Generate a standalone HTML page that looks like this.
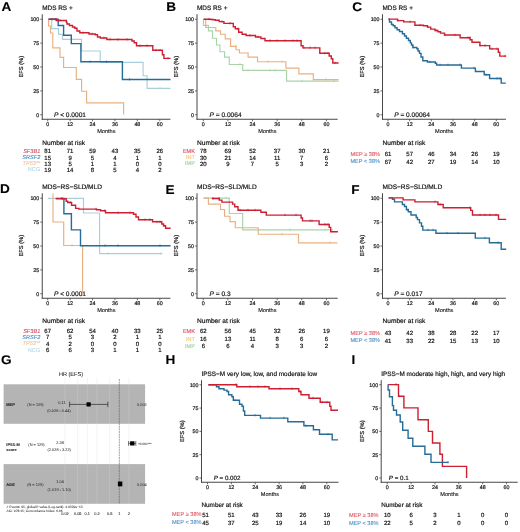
<!DOCTYPE html>
<html><head><meta charset="utf-8"><style>
html,body{margin:0;padding:0;background:#fff;}
svg{display:block;filter:blur(0.42px);}
text{font-family:"Liberation Sans", sans-serif;text-rendering:geometricPrecision;paint-order:stroke;}
</style></head><body>
<svg width="520" height="532" viewBox="0 0 520 532">
<rect width="520" height="532" fill="#fff"/>
<line x1="42.25" y1="14.25" x2="42.25" y2="119.75" stroke="#474747" stroke-width="1.0" stroke-opacity="1.0"/>
<line x1="41.75" y1="119.25" x2="170.40" y2="119.25" stroke="#474747" stroke-width="1.0" stroke-opacity="1.0"/>
<line x1="40.25" y1="114.75" x2="42.25" y2="114.75" stroke="#474747" stroke-width="0.8" stroke-opacity="1.0"/>
<text transform="translate(39.25,116.65) scale(1.0,1)" font-size="5.3" text-anchor="end" font-weight="normal" font-style="normal" fill="#111111" stroke="#111111" stroke-width="0.18">0</text>
<line x1="40.25" y1="90.88" x2="42.25" y2="90.88" stroke="#474747" stroke-width="0.8" stroke-opacity="1.0"/>
<text transform="translate(39.25,92.78) scale(1.0,1)" font-size="5.3" text-anchor="end" font-weight="normal" font-style="normal" fill="#111111" stroke="#111111" stroke-width="0.18">25</text>
<line x1="40.25" y1="67.00" x2="42.25" y2="67.00" stroke="#474747" stroke-width="0.8" stroke-opacity="1.0"/>
<text transform="translate(39.25,68.90) scale(1.0,1)" font-size="5.3" text-anchor="end" font-weight="normal" font-style="normal" fill="#111111" stroke="#111111" stroke-width="0.18">50</text>
<line x1="40.25" y1="43.12" x2="42.25" y2="43.12" stroke="#474747" stroke-width="0.8" stroke-opacity="1.0"/>
<text transform="translate(39.25,45.02) scale(1.0,1)" font-size="5.3" text-anchor="end" font-weight="normal" font-style="normal" fill="#111111" stroke="#111111" stroke-width="0.18">75</text>
<line x1="40.25" y1="19.25" x2="42.25" y2="19.25" stroke="#474747" stroke-width="0.8" stroke-opacity="1.0"/>
<text transform="translate(39.25,21.15) scale(1.0,1)" font-size="5.3" text-anchor="end" font-weight="normal" font-style="normal" fill="#111111" stroke="#111111" stroke-width="0.18">100</text>
<line x1="47.70" y1="119.25" x2="47.70" y2="121.25" stroke="#474747" stroke-width="0.8" stroke-opacity="1.0"/>
<text transform="translate(47.70,125.55) scale(1.0,1)" font-size="5.3" text-anchor="middle" font-weight="normal" font-style="normal" fill="#111111" stroke="#111111" stroke-width="0.18">0</text>
<line x1="70.12" y1="119.25" x2="70.12" y2="121.25" stroke="#474747" stroke-width="0.8" stroke-opacity="1.0"/>
<text transform="translate(70.12,125.55) scale(1.0,1)" font-size="5.3" text-anchor="middle" font-weight="normal" font-style="normal" fill="#111111" stroke="#111111" stroke-width="0.18">12</text>
<line x1="92.54" y1="119.25" x2="92.54" y2="121.25" stroke="#474747" stroke-width="0.8" stroke-opacity="1.0"/>
<text transform="translate(92.54,125.55) scale(1.0,1)" font-size="5.3" text-anchor="middle" font-weight="normal" font-style="normal" fill="#111111" stroke="#111111" stroke-width="0.18">24</text>
<line x1="114.96" y1="119.25" x2="114.96" y2="121.25" stroke="#474747" stroke-width="0.8" stroke-opacity="1.0"/>
<text transform="translate(114.96,125.55) scale(1.0,1)" font-size="5.3" text-anchor="middle" font-weight="normal" font-style="normal" fill="#111111" stroke="#111111" stroke-width="0.18">36</text>
<line x1="137.38" y1="119.25" x2="137.38" y2="121.25" stroke="#474747" stroke-width="0.8" stroke-opacity="1.0"/>
<text transform="translate(137.38,125.55) scale(1.0,1)" font-size="5.3" text-anchor="middle" font-weight="normal" font-style="normal" fill="#111111" stroke="#111111" stroke-width="0.18">48</text>
<line x1="159.80" y1="119.25" x2="159.80" y2="121.25" stroke="#474747" stroke-width="0.8" stroke-opacity="1.0"/>
<text transform="translate(159.80,125.55) scale(1.0,1)" font-size="5.3" text-anchor="middle" font-weight="normal" font-style="normal" fill="#111111" stroke="#111111" stroke-width="0.18">60</text>
<text transform="translate(106.33,132.65) scale(1.0,1)" font-size="5.6" text-anchor="middle" font-weight="normal" font-style="normal" fill="#111111" stroke="#111111" stroke-width="0.1">Months</text>
<text transform="translate(23.45,66.75) rotate(-90)" font-size="5.75" text-anchor="middle" fill="#111111" stroke="#111111" stroke-width="0.18">EFS (%)</text>
<text transform="translate(42.25,9.75) scale(1.0,1)" font-size="6.4" text-anchor="start" font-weight="normal" font-style="normal" fill="#111111" stroke="#111111" stroke-width="0.18">MDS RS +</text>
<text transform="translate(1.50,11.30) scale(1.08,1)" font-size="12.6" text-anchor="start" font-weight="bold" font-style="normal" fill="#000" stroke="#000" stroke-width="0.1">A</text>
<text transform="translate(53.90,117.15)" font-size="6.6" fill="#111111" stroke="#111111" stroke-width="0.18"><tspan font-style="italic" font-family="Liberation Sans">P</tspan> &lt; 0.0001</text>
<path d="M48.6,19.3 H51.7 V28.6 H58.6 V34.4 H62.5 V39.3 H81.5 V51 H100.2 V62.4 H143.1 V75.7 H147.1 V88.4 H170.5" stroke="#a9cfdc" stroke-width="1.15" fill="none" stroke-linejoin="miter" stroke-linecap="butt"/>
<line x1="160.00" y1="87.10" x2="160.00" y2="89.40" stroke="#a9cfdc" stroke-width="0.8" stroke-opacity="1.0"/>
<path d="M48.6,19.3 V26 H50.5 V33 H52.8 V47.8 H60 V57.3 H63.6 V67.5 H76.3 V79.4 H81.6 V91.2 H86.6 V102.9 H123.6 V114.5" stroke="#e9b080" stroke-width="1.15" fill="none" stroke-linejoin="miter" stroke-linecap="butt"/>
<path d="M48.6,19.3 H58.2 V25.5 H63.6 V35.2 H71.3 V43.6 H80.9 V61.8 H122.4 V79.5 H170.5" stroke="#276c98" stroke-width="1.4" fill="none" stroke-linejoin="miter" stroke-linecap="butt"/>
<line x1="52.00" y1="18.00" x2="52.00" y2="20.30" stroke="#276c98" stroke-width="0.8" stroke-opacity="1.0"/>
<line x1="55.00" y1="18.00" x2="55.00" y2="20.30" stroke="#276c98" stroke-width="0.8" stroke-opacity="1.0"/>
<line x1="90.00" y1="60.50" x2="90.00" y2="62.80" stroke="#276c98" stroke-width="0.8" stroke-opacity="1.0"/>
<line x1="106.50" y1="60.50" x2="106.50" y2="62.80" stroke="#276c98" stroke-width="0.8" stroke-opacity="1.0"/>
<line x1="129.60" y1="78.20" x2="129.60" y2="80.50" stroke="#276c98" stroke-width="0.8" stroke-opacity="1.0"/>
<path d="M48.6,19.3 H56.3 V20.5 H66.3 V22.1 H67 V24 H69.4 V25.5 H72.5 V27 H74.8 V28.2 H77 V31 H79.8 V32.8 H89 V34 H95.2 V34.8 H97.5 V37 H100.3 V38 H106.8 V39.5 H132 V41 H134.2 V42.8 H136.5 V45.8 H152.8 V50.2 H162.4 V54.7 H163.9 V58.4 H170.5" stroke="#cc1f32" stroke-width="1.4" fill="none" stroke-linejoin="miter" stroke-linecap="butt"/>
<line x1="56.00" y1="18.00" x2="56.00" y2="20.30" stroke="#cc1f32" stroke-width="0.8" stroke-opacity="1.0"/>
<line x1="60.00" y1="19.20" x2="60.00" y2="21.50" stroke="#cc1f32" stroke-width="0.8" stroke-opacity="1.0"/>
<line x1="83.00" y1="31.50" x2="83.00" y2="33.80" stroke="#cc1f32" stroke-width="0.8" stroke-opacity="1.0"/>
<line x1="92.00" y1="32.70" x2="92.00" y2="35.00" stroke="#cc1f32" stroke-width="0.8" stroke-opacity="1.0"/>
<line x1="104.00" y1="36.70" x2="104.00" y2="39.00" stroke="#cc1f32" stroke-width="0.8" stroke-opacity="1.0"/>
<line x1="110.00" y1="38.20" x2="110.00" y2="40.50" stroke="#cc1f32" stroke-width="0.8" stroke-opacity="1.0"/>
<line x1="118.00" y1="38.20" x2="118.00" y2="40.50" stroke="#cc1f32" stroke-width="0.8" stroke-opacity="1.0"/>
<line x1="127.00" y1="38.20" x2="127.00" y2="40.50" stroke="#cc1f32" stroke-width="0.8" stroke-opacity="1.0"/>
<line x1="140.00" y1="44.50" x2="140.00" y2="46.80" stroke="#cc1f32" stroke-width="0.8" stroke-opacity="1.0"/>
<line x1="147.00" y1="44.50" x2="147.00" y2="46.80" stroke="#cc1f32" stroke-width="0.8" stroke-opacity="1.0"/>
<line x1="156.00" y1="48.90" x2="156.00" y2="51.20" stroke="#cc1f32" stroke-width="0.8" stroke-opacity="1.0"/>
<line x1="160.00" y1="48.90" x2="160.00" y2="51.20" stroke="#cc1f32" stroke-width="0.8" stroke-opacity="1.0"/>
<line x1="168.00" y1="57.10" x2="168.00" y2="59.40" stroke="#cc1f32" stroke-width="0.8" stroke-opacity="1.0"/>
<text transform="translate(42.25,144.60) scale(1.0,1)" font-size="6.6" text-anchor="start" font-weight="normal" font-style="normal" fill="#111111" stroke="#111111" stroke-width="0.18">Number at risk</text>
<text transform="translate(40.25,153.20) scale(1.0,1)" font-size="5.6" text-anchor="end" font-weight="normal" font-style="italic" fill="#d24a5c" stroke="#d24a5c" stroke-width="0.08">SF3B1</text>
<text transform="translate(47.70,153.40) scale(1.0,1)" font-size="6.0" text-anchor="middle" font-weight="normal" font-style="normal" fill="#111111" stroke="#111111" stroke-width="0.18">81</text>
<text transform="translate(70.12,153.40) scale(1.0,1)" font-size="6.0" text-anchor="middle" font-weight="normal" font-style="normal" fill="#111111" stroke="#111111" stroke-width="0.18">71</text>
<text transform="translate(92.54,153.40) scale(1.0,1)" font-size="6.0" text-anchor="middle" font-weight="normal" font-style="normal" fill="#111111" stroke="#111111" stroke-width="0.18">59</text>
<text transform="translate(114.96,153.40) scale(1.0,1)" font-size="6.0" text-anchor="middle" font-weight="normal" font-style="normal" fill="#111111" stroke="#111111" stroke-width="0.18">43</text>
<text transform="translate(137.38,153.40) scale(1.0,1)" font-size="6.0" text-anchor="middle" font-weight="normal" font-style="normal" fill="#111111" stroke="#111111" stroke-width="0.18">35</text>
<text transform="translate(159.80,153.40) scale(1.0,1)" font-size="6.0" text-anchor="middle" font-weight="normal" font-style="normal" fill="#111111" stroke="#111111" stroke-width="0.18">26</text>
<text transform="translate(40.25,159.30) scale(1.0,1)" font-size="5.6" text-anchor="end" font-weight="normal" font-style="italic" fill="#3d8cc4" stroke="#3d8cc4" stroke-width="0.08">SRSF2</text>
<text transform="translate(47.70,159.50) scale(1.0,1)" font-size="6.0" text-anchor="middle" font-weight="normal" font-style="normal" fill="#111111" stroke="#111111" stroke-width="0.18">15</text>
<text transform="translate(70.12,159.50) scale(1.0,1)" font-size="6.0" text-anchor="middle" font-weight="normal" font-style="normal" fill="#111111" stroke="#111111" stroke-width="0.18">9</text>
<text transform="translate(92.54,159.50) scale(1.0,1)" font-size="6.0" text-anchor="middle" font-weight="normal" font-style="normal" fill="#111111" stroke="#111111" stroke-width="0.18">5</text>
<text transform="translate(114.96,159.50) scale(1.0,1)" font-size="6.0" text-anchor="middle" font-weight="normal" font-style="normal" fill="#111111" stroke="#111111" stroke-width="0.18">4</text>
<text transform="translate(137.38,159.50) scale(1.0,1)" font-size="6.0" text-anchor="middle" font-weight="normal" font-style="normal" fill="#111111" stroke="#111111" stroke-width="0.18">1</text>
<text transform="translate(159.80,159.50) scale(1.0,1)" font-size="6.0" text-anchor="middle" font-weight="normal" font-style="normal" fill="#111111" stroke="#111111" stroke-width="0.18">1</text>
<text transform="translate(40.25,165.30) scale(1.0,1)" font-size="5.6" text-anchor="end" font-weight="normal" font-style="italic" fill="#f2c096" stroke="#f2c096" stroke-width="0.08">TP53**</text>
<text transform="translate(47.70,165.50) scale(1.0,1)" font-size="6.0" text-anchor="middle" font-weight="normal" font-style="normal" fill="#111111" stroke="#111111" stroke-width="0.18">13</text>
<text transform="translate(70.12,165.50) scale(1.0,1)" font-size="6.0" text-anchor="middle" font-weight="normal" font-style="normal" fill="#111111" stroke="#111111" stroke-width="0.18">5</text>
<text transform="translate(92.54,165.50) scale(1.0,1)" font-size="6.0" text-anchor="middle" font-weight="normal" font-style="normal" fill="#111111" stroke="#111111" stroke-width="0.18">1</text>
<text transform="translate(114.96,165.50) scale(1.0,1)" font-size="6.0" text-anchor="middle" font-weight="normal" font-style="normal" fill="#111111" stroke="#111111" stroke-width="0.18">1</text>
<text transform="translate(137.38,165.50) scale(1.0,1)" font-size="6.0" text-anchor="middle" font-weight="normal" font-style="normal" fill="#111111" stroke="#111111" stroke-width="0.18">0</text>
<text transform="translate(159.80,165.50) scale(1.0,1)" font-size="6.0" text-anchor="middle" font-weight="normal" font-style="normal" fill="#111111" stroke="#111111" stroke-width="0.18">0</text>
<text transform="translate(40.25,171.40) scale(1.0,1)" font-size="5.6" text-anchor="end" font-weight="normal" font-style="normal" fill="#b2d9e6" stroke="#b2d9e6" stroke-width="0.08">NCG</text>
<text transform="translate(47.70,171.60) scale(1.0,1)" font-size="6.0" text-anchor="middle" font-weight="normal" font-style="normal" fill="#111111" stroke="#111111" stroke-width="0.18">19</text>
<text transform="translate(70.12,171.60) scale(1.0,1)" font-size="6.0" text-anchor="middle" font-weight="normal" font-style="normal" fill="#111111" stroke="#111111" stroke-width="0.18">14</text>
<text transform="translate(92.54,171.60) scale(1.0,1)" font-size="6.0" text-anchor="middle" font-weight="normal" font-style="normal" fill="#111111" stroke="#111111" stroke-width="0.18">8</text>
<text transform="translate(114.96,171.60) scale(1.0,1)" font-size="6.0" text-anchor="middle" font-weight="normal" font-style="normal" fill="#111111" stroke="#111111" stroke-width="0.18">5</text>
<text transform="translate(137.38,171.60) scale(1.0,1)" font-size="6.0" text-anchor="middle" font-weight="normal" font-style="normal" fill="#111111" stroke="#111111" stroke-width="0.18">4</text>
<text transform="translate(159.80,171.60) scale(1.0,1)" font-size="6.0" text-anchor="middle" font-weight="normal" font-style="normal" fill="#111111" stroke="#111111" stroke-width="0.18">2</text>
<line x1="197.00" y1="14.25" x2="197.00" y2="119.75" stroke="#474747" stroke-width="1.0" stroke-opacity="1.0"/>
<line x1="196.50" y1="119.25" x2="337.70" y2="119.25" stroke="#474747" stroke-width="1.0" stroke-opacity="1.0"/>
<line x1="195.00" y1="114.75" x2="197.00" y2="114.75" stroke="#474747" stroke-width="0.8" stroke-opacity="1.0"/>
<text transform="translate(194.00,116.65) scale(1.0,1)" font-size="5.3" text-anchor="end" font-weight="normal" font-style="normal" fill="#111111" stroke="#111111" stroke-width="0.18">0</text>
<line x1="195.00" y1="90.88" x2="197.00" y2="90.88" stroke="#474747" stroke-width="0.8" stroke-opacity="1.0"/>
<text transform="translate(194.00,92.78) scale(1.0,1)" font-size="5.3" text-anchor="end" font-weight="normal" font-style="normal" fill="#111111" stroke="#111111" stroke-width="0.18">25</text>
<line x1="195.00" y1="67.00" x2="197.00" y2="67.00" stroke="#474747" stroke-width="0.8" stroke-opacity="1.0"/>
<text transform="translate(194.00,68.90) scale(1.0,1)" font-size="5.3" text-anchor="end" font-weight="normal" font-style="normal" fill="#111111" stroke="#111111" stroke-width="0.18">50</text>
<line x1="195.00" y1="43.12" x2="197.00" y2="43.12" stroke="#474747" stroke-width="0.8" stroke-opacity="1.0"/>
<text transform="translate(194.00,45.02) scale(1.0,1)" font-size="5.3" text-anchor="end" font-weight="normal" font-style="normal" fill="#111111" stroke="#111111" stroke-width="0.18">75</text>
<line x1="195.00" y1="19.25" x2="197.00" y2="19.25" stroke="#474747" stroke-width="0.8" stroke-opacity="1.0"/>
<text transform="translate(194.00,21.15) scale(1.0,1)" font-size="5.3" text-anchor="end" font-weight="normal" font-style="normal" fill="#111111" stroke="#111111" stroke-width="0.18">100</text>
<line x1="203.30" y1="119.25" x2="203.30" y2="121.25" stroke="#474747" stroke-width="0.8" stroke-opacity="1.0"/>
<text transform="translate(203.30,125.55) scale(1.0,1)" font-size="5.3" text-anchor="middle" font-weight="normal" font-style="normal" fill="#111111" stroke="#111111" stroke-width="0.18">0</text>
<line x1="227.92" y1="119.25" x2="227.92" y2="121.25" stroke="#474747" stroke-width="0.8" stroke-opacity="1.0"/>
<text transform="translate(227.92,125.55) scale(1.0,1)" font-size="5.3" text-anchor="middle" font-weight="normal" font-style="normal" fill="#111111" stroke="#111111" stroke-width="0.18">12</text>
<line x1="252.54" y1="119.25" x2="252.54" y2="121.25" stroke="#474747" stroke-width="0.8" stroke-opacity="1.0"/>
<text transform="translate(252.54,125.55) scale(1.0,1)" font-size="5.3" text-anchor="middle" font-weight="normal" font-style="normal" fill="#111111" stroke="#111111" stroke-width="0.18">24</text>
<line x1="277.16" y1="119.25" x2="277.16" y2="121.25" stroke="#474747" stroke-width="0.8" stroke-opacity="1.0"/>
<text transform="translate(277.16,125.55) scale(1.0,1)" font-size="5.3" text-anchor="middle" font-weight="normal" font-style="normal" fill="#111111" stroke="#111111" stroke-width="0.18">36</text>
<line x1="301.78" y1="119.25" x2="301.78" y2="121.25" stroke="#474747" stroke-width="0.8" stroke-opacity="1.0"/>
<text transform="translate(301.78,125.55) scale(1.0,1)" font-size="5.3" text-anchor="middle" font-weight="normal" font-style="normal" fill="#111111" stroke="#111111" stroke-width="0.18">48</text>
<line x1="326.40" y1="119.25" x2="326.40" y2="121.25" stroke="#474747" stroke-width="0.8" stroke-opacity="1.0"/>
<text transform="translate(326.40,125.55) scale(1.0,1)" font-size="5.3" text-anchor="middle" font-weight="normal" font-style="normal" fill="#111111" stroke="#111111" stroke-width="0.18">60</text>
<text transform="translate(267.35,132.65) scale(1.0,1)" font-size="5.6" text-anchor="middle" font-weight="normal" font-style="normal" fill="#111111" stroke="#111111" stroke-width="0.1">Months</text>
<text transform="translate(178.20,66.75) rotate(-90)" font-size="5.75" text-anchor="middle" fill="#111111" stroke="#111111" stroke-width="0.18">EFS (%)</text>
<text transform="translate(197.00,9.75) scale(1.0,1)" font-size="6.4" text-anchor="start" font-weight="normal" font-style="normal" fill="#111111" stroke="#111111" stroke-width="0.18">MDS RS +</text>
<text transform="translate(166.30,11.00) scale(1.08,1)" font-size="12.6" text-anchor="start" font-weight="bold" font-style="normal" fill="#000" stroke="#000" stroke-width="0.1">B</text>
<text transform="translate(209.50,117.15)" font-size="6.6" fill="#111111" stroke="#111111" stroke-width="0.18"><tspan font-style="italic" font-family="Liberation Sans">P</tspan> = 0.0064</text>
<path d="M203.5,19.3 V25.4 H208.4 V30.8 H212.5 V38.2 H216.5 V45 H219.9 V51.7 H224.6 V57.1 H229.3 V64.5 H242.7 V70.4 H286.6 V81.1 H338.6" stroke="#aad3aa" stroke-width="1.15" fill="none" stroke-linejoin="miter" stroke-linecap="butt"/>
<line x1="240.00" y1="63.20" x2="240.00" y2="65.50" stroke="#aad3aa" stroke-width="0.8" stroke-opacity="1.0"/>
<line x1="248.00" y1="69.10" x2="248.00" y2="71.40" stroke="#aad3aa" stroke-width="0.8" stroke-opacity="1.0"/>
<line x1="270.00" y1="69.10" x2="270.00" y2="71.40" stroke="#aad3aa" stroke-width="0.8" stroke-opacity="1.0"/>
<line x1="275.00" y1="69.10" x2="275.00" y2="71.40" stroke="#aad3aa" stroke-width="0.8" stroke-opacity="1.0"/>
<line x1="302.00" y1="79.80" x2="302.00" y2="82.10" stroke="#aad3aa" stroke-width="0.8" stroke-opacity="1.0"/>
<line x1="334.00" y1="79.80" x2="334.00" y2="82.10" stroke="#aad3aa" stroke-width="0.8" stroke-opacity="1.0"/>
<path d="M203.5,19.3 H205.7 V27.5 H215.8 V30.8 H220.5 V34.2 H225.2 V38.9 H230.6 V46.3 H236 V49.7 H239.4 V53 H248.1 V57.1 H257.5 V61.7 H285.9 V68.1 H298.9 V73.9 H313.3 V79.6 H338.6" stroke="#e9b080" stroke-width="1.15" fill="none" stroke-linejoin="miter" stroke-linecap="butt"/>
<line x1="236.00" y1="45.00" x2="236.00" y2="47.30" stroke="#e9b080" stroke-width="0.8" stroke-opacity="1.0"/>
<line x1="268.00" y1="60.40" x2="268.00" y2="62.70" stroke="#e9b080" stroke-width="0.8" stroke-opacity="1.0"/>
<line x1="282.00" y1="60.40" x2="282.00" y2="62.70" stroke="#e9b080" stroke-width="0.8" stroke-opacity="1.0"/>
<line x1="326.00" y1="78.30" x2="326.00" y2="80.60" stroke="#e9b080" stroke-width="0.8" stroke-opacity="1.0"/>
<path d="M203.5,19.2 H211 V19.6 H215.2 V20.3 H219.2 V21.6 H223.9 V23.4 H233.3 V26.8 H235.3 V28.8 H238.7 V32.2 H242.1 V34.2 H246.1 V35.5 H255.5 V37 H260.9 V38.5 H265 V40.7 H301.1 V45.7 H303 V47.9 H319.8 V53.2 H329.2 V56 H331.3 V58.7 H332.8 V63 H338.6" stroke="#cc1f32" stroke-width="1.4" fill="none" stroke-linejoin="miter" stroke-linecap="butt"/>
<line x1="209.00" y1="17.90" x2="209.00" y2="20.20" stroke="#cc1f32" stroke-width="0.8" stroke-opacity="1.0"/>
<line x1="213.00" y1="18.30" x2="213.00" y2="20.60" stroke="#cc1f32" stroke-width="0.8" stroke-opacity="1.0"/>
<line x1="222.00" y1="20.30" x2="222.00" y2="22.60" stroke="#cc1f32" stroke-width="0.8" stroke-opacity="1.0"/>
<line x1="230.00" y1="22.10" x2="230.00" y2="24.40" stroke="#cc1f32" stroke-width="0.8" stroke-opacity="1.0"/>
<line x1="238.00" y1="27.50" x2="238.00" y2="29.80" stroke="#cc1f32" stroke-width="0.8" stroke-opacity="1.0"/>
<line x1="250.00" y1="34.20" x2="250.00" y2="36.50" stroke="#cc1f32" stroke-width="0.8" stroke-opacity="1.0"/>
<line x1="258.00" y1="35.70" x2="258.00" y2="38.00" stroke="#cc1f32" stroke-width="0.8" stroke-opacity="1.0"/>
<line x1="270.00" y1="39.40" x2="270.00" y2="41.70" stroke="#cc1f32" stroke-width="0.8" stroke-opacity="1.0"/>
<line x1="277.00" y1="39.40" x2="277.00" y2="41.70" stroke="#cc1f32" stroke-width="0.8" stroke-opacity="1.0"/>
<line x1="285.00" y1="39.40" x2="285.00" y2="41.70" stroke="#cc1f32" stroke-width="0.8" stroke-opacity="1.0"/>
<line x1="293.00" y1="39.40" x2="293.00" y2="41.70" stroke="#cc1f32" stroke-width="0.8" stroke-opacity="1.0"/>
<line x1="297.00" y1="39.40" x2="297.00" y2="41.70" stroke="#cc1f32" stroke-width="0.8" stroke-opacity="1.0"/>
<line x1="304.00" y1="46.60" x2="304.00" y2="48.90" stroke="#cc1f32" stroke-width="0.8" stroke-opacity="1.0"/>
<line x1="310.00" y1="46.60" x2="310.00" y2="48.90" stroke="#cc1f32" stroke-width="0.8" stroke-opacity="1.0"/>
<line x1="315.00" y1="46.60" x2="315.00" y2="48.90" stroke="#cc1f32" stroke-width="0.8" stroke-opacity="1.0"/>
<line x1="325.00" y1="51.90" x2="325.00" y2="54.20" stroke="#cc1f32" stroke-width="0.8" stroke-opacity="1.0"/>
<line x1="328.00" y1="51.90" x2="328.00" y2="54.20" stroke="#cc1f32" stroke-width="0.8" stroke-opacity="1.0"/>
<line x1="335.00" y1="61.70" x2="335.00" y2="64.00" stroke="#cc1f32" stroke-width="0.8" stroke-opacity="1.0"/>
<text transform="translate(197.00,144.60) scale(1.0,1)" font-size="6.6" text-anchor="start" font-weight="normal" font-style="normal" fill="#111111" stroke="#111111" stroke-width="0.18">Number at risk</text>
<text transform="translate(195.00,153.20) scale(1.0,1)" font-size="5.6" text-anchor="end" font-weight="normal" font-style="normal" fill="#d9485a" stroke="#d9485a" stroke-width="0.08">EMK</text>
<text transform="translate(203.30,153.40) scale(1.0,1)" font-size="6.0" text-anchor="middle" font-weight="normal" font-style="normal" fill="#111111" stroke="#111111" stroke-width="0.18">78</text>
<text transform="translate(227.92,153.40) scale(1.0,1)" font-size="6.0" text-anchor="middle" font-weight="normal" font-style="normal" fill="#111111" stroke="#111111" stroke-width="0.18">69</text>
<text transform="translate(252.54,153.40) scale(1.0,1)" font-size="6.0" text-anchor="middle" font-weight="normal" font-style="normal" fill="#111111" stroke="#111111" stroke-width="0.18">52</text>
<text transform="translate(277.16,153.40) scale(1.0,1)" font-size="6.0" text-anchor="middle" font-weight="normal" font-style="normal" fill="#111111" stroke="#111111" stroke-width="0.18">37</text>
<text transform="translate(301.78,153.40) scale(1.0,1)" font-size="6.0" text-anchor="middle" font-weight="normal" font-style="normal" fill="#111111" stroke="#111111" stroke-width="0.18">30</text>
<text transform="translate(326.40,153.40) scale(1.0,1)" font-size="6.0" text-anchor="middle" font-weight="normal" font-style="normal" fill="#111111" stroke="#111111" stroke-width="0.18">21</text>
<text transform="translate(195.00,159.30) scale(1.0,1)" font-size="5.6" text-anchor="end" font-weight="normal" font-style="normal" fill="#f2c07a" stroke="#f2c07a" stroke-width="0.08">INT</text>
<text transform="translate(203.30,159.50) scale(1.0,1)" font-size="6.0" text-anchor="middle" font-weight="normal" font-style="normal" fill="#111111" stroke="#111111" stroke-width="0.18">30</text>
<text transform="translate(227.92,159.50) scale(1.0,1)" font-size="6.0" text-anchor="middle" font-weight="normal" font-style="normal" fill="#111111" stroke="#111111" stroke-width="0.18">21</text>
<text transform="translate(252.54,159.50) scale(1.0,1)" font-size="6.0" text-anchor="middle" font-weight="normal" font-style="normal" fill="#111111" stroke="#111111" stroke-width="0.18">14</text>
<text transform="translate(277.16,159.50) scale(1.0,1)" font-size="6.0" text-anchor="middle" font-weight="normal" font-style="normal" fill="#111111" stroke="#111111" stroke-width="0.18">11</text>
<text transform="translate(301.78,159.50) scale(1.0,1)" font-size="6.0" text-anchor="middle" font-weight="normal" font-style="normal" fill="#111111" stroke="#111111" stroke-width="0.18">7</text>
<text transform="translate(326.40,159.50) scale(1.0,1)" font-size="6.0" text-anchor="middle" font-weight="normal" font-style="normal" fill="#111111" stroke="#111111" stroke-width="0.18">6</text>
<text transform="translate(195.00,165.30) scale(1.0,1)" font-size="5.6" text-anchor="end" font-weight="normal" font-style="normal" fill="#9fd0a0" stroke="#9fd0a0" stroke-width="0.08">IMP</text>
<text transform="translate(203.30,165.50) scale(1.0,1)" font-size="6.0" text-anchor="middle" font-weight="normal" font-style="normal" fill="#111111" stroke="#111111" stroke-width="0.18">20</text>
<text transform="translate(227.92,165.50) scale(1.0,1)" font-size="6.0" text-anchor="middle" font-weight="normal" font-style="normal" fill="#111111" stroke="#111111" stroke-width="0.18">9</text>
<text transform="translate(252.54,165.50) scale(1.0,1)" font-size="6.0" text-anchor="middle" font-weight="normal" font-style="normal" fill="#111111" stroke="#111111" stroke-width="0.18">7</text>
<text transform="translate(277.16,165.50) scale(1.0,1)" font-size="6.0" text-anchor="middle" font-weight="normal" font-style="normal" fill="#111111" stroke="#111111" stroke-width="0.18">5</text>
<text transform="translate(301.78,165.50) scale(1.0,1)" font-size="6.0" text-anchor="middle" font-weight="normal" font-style="normal" fill="#111111" stroke="#111111" stroke-width="0.18">3</text>
<text transform="translate(326.40,165.50) scale(1.0,1)" font-size="6.0" text-anchor="middle" font-weight="normal" font-style="normal" fill="#111111" stroke="#111111" stroke-width="0.18">2</text>
<line x1="382.50" y1="14.25" x2="382.50" y2="119.75" stroke="#474747" stroke-width="1.0" stroke-opacity="1.0"/>
<line x1="382.00" y1="119.25" x2="505.90" y2="119.25" stroke="#474747" stroke-width="1.0" stroke-opacity="1.0"/>
<line x1="380.50" y1="114.75" x2="382.50" y2="114.75" stroke="#474747" stroke-width="0.8" stroke-opacity="1.0"/>
<text transform="translate(379.50,116.65) scale(1.0,1)" font-size="5.3" text-anchor="end" font-weight="normal" font-style="normal" fill="#111111" stroke="#111111" stroke-width="0.18">0</text>
<line x1="380.50" y1="90.88" x2="382.50" y2="90.88" stroke="#474747" stroke-width="0.8" stroke-opacity="1.0"/>
<text transform="translate(379.50,92.78) scale(1.0,1)" font-size="5.3" text-anchor="end" font-weight="normal" font-style="normal" fill="#111111" stroke="#111111" stroke-width="0.18">25</text>
<line x1="380.50" y1="67.00" x2="382.50" y2="67.00" stroke="#474747" stroke-width="0.8" stroke-opacity="1.0"/>
<text transform="translate(379.50,68.90) scale(1.0,1)" font-size="5.3" text-anchor="end" font-weight="normal" font-style="normal" fill="#111111" stroke="#111111" stroke-width="0.18">50</text>
<line x1="380.50" y1="43.12" x2="382.50" y2="43.12" stroke="#474747" stroke-width="0.8" stroke-opacity="1.0"/>
<text transform="translate(379.50,45.02) scale(1.0,1)" font-size="5.3" text-anchor="end" font-weight="normal" font-style="normal" fill="#111111" stroke="#111111" stroke-width="0.18">75</text>
<line x1="380.50" y1="19.25" x2="382.50" y2="19.25" stroke="#474747" stroke-width="0.8" stroke-opacity="1.0"/>
<text transform="translate(379.50,21.15) scale(1.0,1)" font-size="5.3" text-anchor="end" font-weight="normal" font-style="normal" fill="#111111" stroke="#111111" stroke-width="0.18">100</text>
<line x1="388.00" y1="119.25" x2="388.00" y2="121.25" stroke="#474747" stroke-width="0.8" stroke-opacity="1.0"/>
<text transform="translate(388.00,125.55) scale(1.0,1)" font-size="5.3" text-anchor="middle" font-weight="normal" font-style="normal" fill="#111111" stroke="#111111" stroke-width="0.18">0</text>
<line x1="409.66" y1="119.25" x2="409.66" y2="121.25" stroke="#474747" stroke-width="0.8" stroke-opacity="1.0"/>
<text transform="translate(409.66,125.55) scale(1.0,1)" font-size="5.3" text-anchor="middle" font-weight="normal" font-style="normal" fill="#111111" stroke="#111111" stroke-width="0.18">12</text>
<line x1="431.32" y1="119.25" x2="431.32" y2="121.25" stroke="#474747" stroke-width="0.8" stroke-opacity="1.0"/>
<text transform="translate(431.32,125.55) scale(1.0,1)" font-size="5.3" text-anchor="middle" font-weight="normal" font-style="normal" fill="#111111" stroke="#111111" stroke-width="0.18">24</text>
<line x1="452.98" y1="119.25" x2="452.98" y2="121.25" stroke="#474747" stroke-width="0.8" stroke-opacity="1.0"/>
<text transform="translate(452.98,125.55) scale(1.0,1)" font-size="5.3" text-anchor="middle" font-weight="normal" font-style="normal" fill="#111111" stroke="#111111" stroke-width="0.18">36</text>
<line x1="474.64" y1="119.25" x2="474.64" y2="121.25" stroke="#474747" stroke-width="0.8" stroke-opacity="1.0"/>
<text transform="translate(474.64,125.55) scale(1.0,1)" font-size="5.3" text-anchor="middle" font-weight="normal" font-style="normal" fill="#111111" stroke="#111111" stroke-width="0.18">48</text>
<line x1="496.30" y1="119.25" x2="496.30" y2="121.25" stroke="#474747" stroke-width="0.8" stroke-opacity="1.0"/>
<text transform="translate(496.30,125.55) scale(1.0,1)" font-size="5.3" text-anchor="middle" font-weight="normal" font-style="normal" fill="#111111" stroke="#111111" stroke-width="0.18">60</text>
<text transform="translate(444.20,132.65) scale(1.0,1)" font-size="5.6" text-anchor="middle" font-weight="normal" font-style="normal" fill="#111111" stroke="#111111" stroke-width="0.1">Months</text>
<text transform="translate(363.70,66.75) rotate(-90)" font-size="5.75" text-anchor="middle" fill="#111111" stroke="#111111" stroke-width="0.18">EFS (%)</text>
<text transform="translate(382.50,9.75) scale(1.0,1)" font-size="6.4" text-anchor="start" font-weight="normal" font-style="normal" fill="#111111" stroke="#111111" stroke-width="0.18">MDS RS +</text>
<text transform="translate(352.20,11.00) scale(1.08,1)" font-size="12.6" text-anchor="start" font-weight="bold" font-style="normal" fill="#000" stroke="#000" stroke-width="0.1">C</text>
<text transform="translate(394.20,117.15)" font-size="6.6" fill="#111111" stroke="#111111" stroke-width="0.18"><tspan font-style="italic" font-family="Liberation Sans">P</tspan> = 0.00064</text>
<path d="M388.5,19.2 H389.5 V22 H391.5 V24.5 H393.2 V25.8 H395 V27.8 H397.1 V29.8 H399.5 V31.5 H402.4 V33.7 H404.5 V36 H406.4 V38.3 H408.5 V40.5 H410.3 V42.9 H411.5 V45 H412.9 V47.5 H416.9 V48.8 H418 V51 H419.5 V53.4 H421 V57 H422.8 V60.7 H427.4 V62 H435.3 V63.3 H436.6 V65 H459.5 V64.9 H461.4 V68.1 H475.4 V71.5 H484.2 V74.8 H489.6 V78.5 H501.2 V83.1 H505.8" stroke="#276c98" stroke-width="1.4" fill="none" stroke-linejoin="miter" stroke-linecap="butt"/>
<line x1="413.00" y1="46.20" x2="413.00" y2="48.50" stroke="#276c98" stroke-width="0.8" stroke-opacity="1.0"/>
<line x1="430.00" y1="60.70" x2="430.00" y2="63.00" stroke="#276c98" stroke-width="0.8" stroke-opacity="1.0"/>
<line x1="440.00" y1="63.70" x2="440.00" y2="66.00" stroke="#276c98" stroke-width="0.8" stroke-opacity="1.0"/>
<line x1="448.00" y1="63.70" x2="448.00" y2="66.00" stroke="#276c98" stroke-width="0.8" stroke-opacity="1.0"/>
<line x1="460.00" y1="63.60" x2="460.00" y2="65.90" stroke="#276c98" stroke-width="0.8" stroke-opacity="1.0"/>
<line x1="474.00" y1="66.80" x2="474.00" y2="69.10" stroke="#276c98" stroke-width="0.8" stroke-opacity="1.0"/>
<line x1="486.00" y1="73.50" x2="486.00" y2="75.80" stroke="#276c98" stroke-width="0.8" stroke-opacity="1.0"/>
<line x1="497.00" y1="77.20" x2="497.00" y2="79.50" stroke="#276c98" stroke-width="0.8" stroke-opacity="1.0"/>
<line x1="500.00" y1="77.20" x2="500.00" y2="79.50" stroke="#276c98" stroke-width="0.8" stroke-opacity="1.0"/>
<path d="M388.5,19.1 H397.5 V20.6 H403.7 V21.9 H414.9 V25.2 H423.4 V25.8 H427.4 V27.1 H430.7 V29.1 H435 V30.5 H437.9 V31.7 H440.5 V33.1 H444.5 V35.05 H460.1 V37.7 H470 V39.7 H472 V42.3 H479.9 V45.6 H489.7 V48.9 H498.3 V52.2 H499.8 V56.1 H506.2" stroke="#cc1f32" stroke-width="1.4" fill="none" stroke-linejoin="miter" stroke-linecap="butt"/>
<line x1="398.00" y1="19.30" x2="398.00" y2="21.60" stroke="#cc1f32" stroke-width="0.8" stroke-opacity="1.0"/>
<line x1="410.00" y1="20.60" x2="410.00" y2="22.90" stroke="#cc1f32" stroke-width="0.8" stroke-opacity="1.0"/>
<line x1="420.00" y1="23.90" x2="420.00" y2="26.20" stroke="#cc1f32" stroke-width="0.8" stroke-opacity="1.0"/>
<line x1="428.00" y1="25.80" x2="428.00" y2="28.10" stroke="#cc1f32" stroke-width="0.8" stroke-opacity="1.0"/>
<line x1="436.00" y1="29.20" x2="436.00" y2="31.50" stroke="#cc1f32" stroke-width="0.8" stroke-opacity="1.0"/>
<line x1="445.00" y1="33.75" x2="445.00" y2="36.05" stroke="#cc1f32" stroke-width="0.8" stroke-opacity="1.0"/>
<line x1="455.00" y1="33.75" x2="455.00" y2="36.05" stroke="#cc1f32" stroke-width="0.8" stroke-opacity="1.0"/>
<line x1="468.00" y1="36.40" x2="468.00" y2="38.70" stroke="#cc1f32" stroke-width="0.8" stroke-opacity="1.0"/>
<line x1="470.00" y1="36.40" x2="470.00" y2="38.70" stroke="#cc1f32" stroke-width="0.8" stroke-opacity="1.0"/>
<line x1="480.00" y1="44.30" x2="480.00" y2="46.60" stroke="#cc1f32" stroke-width="0.8" stroke-opacity="1.0"/>
<line x1="485.00" y1="44.30" x2="485.00" y2="46.60" stroke="#cc1f32" stroke-width="0.8" stroke-opacity="1.0"/>
<line x1="492.00" y1="47.60" x2="492.00" y2="49.90" stroke="#cc1f32" stroke-width="0.8" stroke-opacity="1.0"/>
<line x1="497.00" y1="47.60" x2="497.00" y2="49.90" stroke="#cc1f32" stroke-width="0.8" stroke-opacity="1.0"/>
<line x1="505.00" y1="54.80" x2="505.00" y2="57.10" stroke="#cc1f32" stroke-width="0.8" stroke-opacity="1.0"/>
<text transform="translate(382.50,144.60) scale(1.0,1)" font-size="6.6" text-anchor="start" font-weight="normal" font-style="normal" fill="#111111" stroke="#111111" stroke-width="0.18">Number at risk</text>
<text transform="translate(380.00,155.50) scale(1.0,1)" font-size="5.6" text-anchor="end" font-weight="normal" font-style="normal" fill="#e0505e" stroke="#e0505e" stroke-width="0.08">MEP ≥ 38%</text>
<text transform="translate(388.00,155.70) scale(1.0,1)" font-size="6.0" text-anchor="middle" font-weight="normal" font-style="normal" fill="#111111" stroke="#111111" stroke-width="0.18">61</text>
<text transform="translate(409.66,155.70) scale(1.0,1)" font-size="6.0" text-anchor="middle" font-weight="normal" font-style="normal" fill="#111111" stroke="#111111" stroke-width="0.18">57</text>
<text transform="translate(431.32,155.70) scale(1.0,1)" font-size="6.0" text-anchor="middle" font-weight="normal" font-style="normal" fill="#111111" stroke="#111111" stroke-width="0.18">46</text>
<text transform="translate(452.98,155.70) scale(1.0,1)" font-size="6.0" text-anchor="middle" font-weight="normal" font-style="normal" fill="#111111" stroke="#111111" stroke-width="0.18">34</text>
<text transform="translate(474.64,155.70) scale(1.0,1)" font-size="6.0" text-anchor="middle" font-weight="normal" font-style="normal" fill="#111111" stroke="#111111" stroke-width="0.18">26</text>
<text transform="translate(496.30,155.70) scale(1.0,1)" font-size="6.0" text-anchor="middle" font-weight="normal" font-style="normal" fill="#111111" stroke="#111111" stroke-width="0.18">19</text>
<text transform="translate(380.00,163.40) scale(1.0,1)" font-size="5.6" text-anchor="end" font-weight="normal" font-style="normal" fill="#4a90c8" stroke="#4a90c8" stroke-width="0.08">MEP &lt; 38%</text>
<text transform="translate(388.00,163.60) scale(1.0,1)" font-size="6.0" text-anchor="middle" font-weight="normal" font-style="normal" fill="#111111" stroke="#111111" stroke-width="0.18">67</text>
<text transform="translate(409.66,163.60) scale(1.0,1)" font-size="6.0" text-anchor="middle" font-weight="normal" font-style="normal" fill="#111111" stroke="#111111" stroke-width="0.18">42</text>
<text transform="translate(431.32,163.60) scale(1.0,1)" font-size="6.0" text-anchor="middle" font-weight="normal" font-style="normal" fill="#111111" stroke="#111111" stroke-width="0.18">27</text>
<text transform="translate(452.98,163.60) scale(1.0,1)" font-size="6.0" text-anchor="middle" font-weight="normal" font-style="normal" fill="#111111" stroke="#111111" stroke-width="0.18">19</text>
<text transform="translate(474.64,163.60) scale(1.0,1)" font-size="6.0" text-anchor="middle" font-weight="normal" font-style="normal" fill="#111111" stroke="#111111" stroke-width="0.18">14</text>
<text transform="translate(496.30,163.60) scale(1.0,1)" font-size="6.0" text-anchor="middle" font-weight="normal" font-style="normal" fill="#111111" stroke="#111111" stroke-width="0.18">10</text>
<line x1="42.25" y1="193.25" x2="42.25" y2="298.75" stroke="#474747" stroke-width="1.0" stroke-opacity="1.0"/>
<line x1="41.75" y1="298.25" x2="170.40" y2="298.25" stroke="#474747" stroke-width="1.0" stroke-opacity="1.0"/>
<line x1="40.25" y1="293.75" x2="42.25" y2="293.75" stroke="#474747" stroke-width="0.8" stroke-opacity="1.0"/>
<text transform="translate(39.25,295.65) scale(1.0,1)" font-size="5.3" text-anchor="end" font-weight="normal" font-style="normal" fill="#111111" stroke="#111111" stroke-width="0.18">0</text>
<line x1="40.25" y1="269.88" x2="42.25" y2="269.88" stroke="#474747" stroke-width="0.8" stroke-opacity="1.0"/>
<text transform="translate(39.25,271.77) scale(1.0,1)" font-size="5.3" text-anchor="end" font-weight="normal" font-style="normal" fill="#111111" stroke="#111111" stroke-width="0.18">25</text>
<line x1="40.25" y1="246.00" x2="42.25" y2="246.00" stroke="#474747" stroke-width="0.8" stroke-opacity="1.0"/>
<text transform="translate(39.25,247.90) scale(1.0,1)" font-size="5.3" text-anchor="end" font-weight="normal" font-style="normal" fill="#111111" stroke="#111111" stroke-width="0.18">50</text>
<line x1="40.25" y1="222.12" x2="42.25" y2="222.12" stroke="#474747" stroke-width="0.8" stroke-opacity="1.0"/>
<text transform="translate(39.25,224.03) scale(1.0,1)" font-size="5.3" text-anchor="end" font-weight="normal" font-style="normal" fill="#111111" stroke="#111111" stroke-width="0.18">75</text>
<line x1="40.25" y1="198.25" x2="42.25" y2="198.25" stroke="#474747" stroke-width="0.8" stroke-opacity="1.0"/>
<text transform="translate(39.25,200.15) scale(1.0,1)" font-size="5.3" text-anchor="end" font-weight="normal" font-style="normal" fill="#111111" stroke="#111111" stroke-width="0.18">100</text>
<line x1="47.70" y1="298.25" x2="47.70" y2="300.25" stroke="#474747" stroke-width="0.8" stroke-opacity="1.0"/>
<text transform="translate(47.70,304.55) scale(1.0,1)" font-size="5.3" text-anchor="middle" font-weight="normal" font-style="normal" fill="#111111" stroke="#111111" stroke-width="0.18">0</text>
<line x1="70.12" y1="298.25" x2="70.12" y2="300.25" stroke="#474747" stroke-width="0.8" stroke-opacity="1.0"/>
<text transform="translate(70.12,304.55) scale(1.0,1)" font-size="5.3" text-anchor="middle" font-weight="normal" font-style="normal" fill="#111111" stroke="#111111" stroke-width="0.18">12</text>
<line x1="92.54" y1="298.25" x2="92.54" y2="300.25" stroke="#474747" stroke-width="0.8" stroke-opacity="1.0"/>
<text transform="translate(92.54,304.55) scale(1.0,1)" font-size="5.3" text-anchor="middle" font-weight="normal" font-style="normal" fill="#111111" stroke="#111111" stroke-width="0.18">24</text>
<line x1="114.96" y1="298.25" x2="114.96" y2="300.25" stroke="#474747" stroke-width="0.8" stroke-opacity="1.0"/>
<text transform="translate(114.96,304.55) scale(1.0,1)" font-size="5.3" text-anchor="middle" font-weight="normal" font-style="normal" fill="#111111" stroke="#111111" stroke-width="0.18">36</text>
<line x1="137.38" y1="298.25" x2="137.38" y2="300.25" stroke="#474747" stroke-width="0.8" stroke-opacity="1.0"/>
<text transform="translate(137.38,304.55) scale(1.0,1)" font-size="5.3" text-anchor="middle" font-weight="normal" font-style="normal" fill="#111111" stroke="#111111" stroke-width="0.18">48</text>
<line x1="159.80" y1="298.25" x2="159.80" y2="300.25" stroke="#474747" stroke-width="0.8" stroke-opacity="1.0"/>
<text transform="translate(159.80,304.55) scale(1.0,1)" font-size="5.3" text-anchor="middle" font-weight="normal" font-style="normal" fill="#111111" stroke="#111111" stroke-width="0.18">60</text>
<text transform="translate(106.33,311.65) scale(1.0,1)" font-size="5.6" text-anchor="middle" font-weight="normal" font-style="normal" fill="#111111" stroke="#111111" stroke-width="0.1">Months</text>
<text transform="translate(23.45,245.75) rotate(-90)" font-size="5.75" text-anchor="middle" fill="#111111" stroke="#111111" stroke-width="0.18">EFS (%)</text>
<text transform="translate(42.25,188.75) scale(1.0,1)" font-size="6.55" text-anchor="start" font-weight="normal" font-style="normal" fill="#111111" stroke="#111111" stroke-width="0.18">MDS−RS−SLD/MLD</text>
<text transform="translate(0.00,192.80) scale(1.08,1)" font-size="12.6" text-anchor="start" font-weight="bold" font-style="normal" fill="#000" stroke="#000" stroke-width="0.1">D</text>
<text transform="translate(53.90,296.15)" font-size="6.6" fill="#111111" stroke="#111111" stroke-width="0.18"><tspan font-style="italic" font-family="Liberation Sans">P</tspan> &lt; 0.0001</text>
<path d="M48,198.4 H83.5 V213 H99.6 V253.6 H162.3" stroke="#a9cfdc" stroke-width="1.15" fill="none" stroke-linejoin="miter" stroke-linecap="butt"/>
<line x1="108.00" y1="252.30" x2="108.00" y2="254.60" stroke="#a9cfdc" stroke-width="0.8" stroke-opacity="1.0"/>
<line x1="161.00" y1="252.30" x2="161.00" y2="254.60" stroke="#a9cfdc" stroke-width="0.8" stroke-opacity="1.0"/>
<path d="M53,193.5 V222 H63.7 V245.5 H82.6 V294.5" stroke="#e9b080" stroke-width="1.15" fill="none" stroke-linejoin="miter" stroke-linecap="butt"/>
<line x1="72.00" y1="244.20" x2="72.00" y2="246.50" stroke="#e9b080" stroke-width="0.8" stroke-opacity="1.0"/>
<path d="M55.8,198.4 H63.9 V213.7 H71.4 V229.9 H80.5 V245.7 H170.6" stroke="#276c98" stroke-width="1.4" fill="none" stroke-linejoin="miter" stroke-linecap="butt"/>
<line x1="62.00" y1="197.10" x2="62.00" y2="199.40" stroke="#276c98" stroke-width="0.8" stroke-opacity="1.0"/>
<line x1="105.00" y1="244.40" x2="105.00" y2="246.70" stroke="#276c98" stroke-width="0.8" stroke-opacity="1.0"/>
<line x1="118.00" y1="244.40" x2="118.00" y2="246.70" stroke="#276c98" stroke-width="0.8" stroke-opacity="1.0"/>
<line x1="160.00" y1="244.40" x2="160.00" y2="246.70" stroke="#276c98" stroke-width="0.8" stroke-opacity="1.0"/>
<path d="M55.7,198.8 H66.2 V201.2 H67.7 V202.5 H71.6 V205.2 H75.6 V208.4 H78.9 V209.1 H96.6 V209.8 H100.6 V210.7 H105.5 V212.8 H133.5 V214.2 H136 V217 H138.5 V219.7 H152.6 V221.8 H161.8 V224 H163.5 V225.8 H165.6 V228.3 H170.6" stroke="#cc1f32" stroke-width="1.4" fill="none" stroke-linejoin="miter" stroke-linecap="butt"/>
<line x1="62.00" y1="197.50" x2="62.00" y2="199.80" stroke="#cc1f32" stroke-width="0.8" stroke-opacity="1.0"/>
<line x1="70.00" y1="201.20" x2="70.00" y2="203.50" stroke="#cc1f32" stroke-width="0.8" stroke-opacity="1.0"/>
<line x1="96.00" y1="207.80" x2="96.00" y2="210.10" stroke="#cc1f32" stroke-width="0.8" stroke-opacity="1.0"/>
<line x1="105.00" y1="209.40" x2="105.00" y2="211.70" stroke="#cc1f32" stroke-width="0.8" stroke-opacity="1.0"/>
<line x1="118.00" y1="211.50" x2="118.00" y2="213.80" stroke="#cc1f32" stroke-width="0.8" stroke-opacity="1.0"/>
<line x1="130.00" y1="211.50" x2="130.00" y2="213.80" stroke="#cc1f32" stroke-width="0.8" stroke-opacity="1.0"/>
<line x1="145.00" y1="218.40" x2="145.00" y2="220.70" stroke="#cc1f32" stroke-width="0.8" stroke-opacity="1.0"/>
<line x1="150.00" y1="218.40" x2="150.00" y2="220.70" stroke="#cc1f32" stroke-width="0.8" stroke-opacity="1.0"/>
<line x1="157.00" y1="220.50" x2="157.00" y2="222.80" stroke="#cc1f32" stroke-width="0.8" stroke-opacity="1.0"/>
<line x1="160.00" y1="220.50" x2="160.00" y2="222.80" stroke="#cc1f32" stroke-width="0.8" stroke-opacity="1.0"/>
<line x1="164.00" y1="224.50" x2="164.00" y2="226.80" stroke="#cc1f32" stroke-width="0.8" stroke-opacity="1.0"/>
<text transform="translate(42.25,323.40) scale(1.0,1)" font-size="6.6" text-anchor="start" font-weight="normal" font-style="normal" fill="#111111" stroke="#111111" stroke-width="0.18">Number at risk</text>
<text transform="translate(40.25,332.50) scale(1.0,1)" font-size="5.6" text-anchor="end" font-weight="normal" font-style="italic" fill="#d24a5c" stroke="#d24a5c" stroke-width="0.08">SF3B1</text>
<text transform="translate(47.70,332.70) scale(1.0,1)" font-size="6.0" text-anchor="middle" font-weight="normal" font-style="normal" fill="#111111" stroke="#111111" stroke-width="0.18">67</text>
<text transform="translate(70.12,332.70) scale(1.0,1)" font-size="6.0" text-anchor="middle" font-weight="normal" font-style="normal" fill="#111111" stroke="#111111" stroke-width="0.18">62</text>
<text transform="translate(92.54,332.70) scale(1.0,1)" font-size="6.0" text-anchor="middle" font-weight="normal" font-style="normal" fill="#111111" stroke="#111111" stroke-width="0.18">54</text>
<text transform="translate(114.96,332.70) scale(1.0,1)" font-size="6.0" text-anchor="middle" font-weight="normal" font-style="normal" fill="#111111" stroke="#111111" stroke-width="0.18">40</text>
<text transform="translate(137.38,332.70) scale(1.0,1)" font-size="6.0" text-anchor="middle" font-weight="normal" font-style="normal" fill="#111111" stroke="#111111" stroke-width="0.18">33</text>
<text transform="translate(159.80,332.70) scale(1.0,1)" font-size="6.0" text-anchor="middle" font-weight="normal" font-style="normal" fill="#111111" stroke="#111111" stroke-width="0.18">25</text>
<text transform="translate(40.25,338.90) scale(1.0,1)" font-size="5.6" text-anchor="end" font-weight="normal" font-style="italic" fill="#3d8cc4" stroke="#3d8cc4" stroke-width="0.08">SRSF2</text>
<text transform="translate(47.70,339.10) scale(1.0,1)" font-size="6.0" text-anchor="middle" font-weight="normal" font-style="normal" fill="#111111" stroke="#111111" stroke-width="0.18">7</text>
<text transform="translate(70.12,339.10) scale(1.0,1)" font-size="6.0" text-anchor="middle" font-weight="normal" font-style="normal" fill="#111111" stroke="#111111" stroke-width="0.18">5</text>
<text transform="translate(92.54,339.10) scale(1.0,1)" font-size="6.0" text-anchor="middle" font-weight="normal" font-style="normal" fill="#111111" stroke="#111111" stroke-width="0.18">3</text>
<text transform="translate(114.96,339.10) scale(1.0,1)" font-size="6.0" text-anchor="middle" font-weight="normal" font-style="normal" fill="#111111" stroke="#111111" stroke-width="0.18">2</text>
<text transform="translate(137.38,339.10) scale(1.0,1)" font-size="6.0" text-anchor="middle" font-weight="normal" font-style="normal" fill="#111111" stroke="#111111" stroke-width="0.18">1</text>
<text transform="translate(159.80,339.10) scale(1.0,1)" font-size="6.0" text-anchor="middle" font-weight="normal" font-style="normal" fill="#111111" stroke="#111111" stroke-width="0.18">1</text>
<text transform="translate(40.25,345.30) scale(1.0,1)" font-size="5.6" text-anchor="end" font-weight="normal" font-style="italic" fill="#f2c096" stroke="#f2c096" stroke-width="0.08">TP53**</text>
<text transform="translate(47.70,345.50) scale(1.0,1)" font-size="6.0" text-anchor="middle" font-weight="normal" font-style="normal" fill="#111111" stroke="#111111" stroke-width="0.18">4</text>
<text transform="translate(70.12,345.50) scale(1.0,1)" font-size="6.0" text-anchor="middle" font-weight="normal" font-style="normal" fill="#111111" stroke="#111111" stroke-width="0.18">2</text>
<text transform="translate(92.54,345.50) scale(1.0,1)" font-size="6.0" text-anchor="middle" font-weight="normal" font-style="normal" fill="#111111" stroke="#111111" stroke-width="0.18">0</text>
<text transform="translate(114.96,345.50) scale(1.0,1)" font-size="6.0" text-anchor="middle" font-weight="normal" font-style="normal" fill="#111111" stroke="#111111" stroke-width="0.18">0</text>
<text transform="translate(137.38,345.50) scale(1.0,1)" font-size="6.0" text-anchor="middle" font-weight="normal" font-style="normal" fill="#111111" stroke="#111111" stroke-width="0.18">0</text>
<text transform="translate(159.80,345.50) scale(1.0,1)" font-size="6.0" text-anchor="middle" font-weight="normal" font-style="normal" fill="#111111" stroke="#111111" stroke-width="0.18">0</text>
<text transform="translate(40.25,351.50) scale(1.0,1)" font-size="5.6" text-anchor="end" font-weight="normal" font-style="normal" fill="#b2d9e6" stroke="#b2d9e6" stroke-width="0.08">NCG</text>
<text transform="translate(47.70,351.70) scale(1.0,1)" font-size="6.0" text-anchor="middle" font-weight="normal" font-style="normal" fill="#111111" stroke="#111111" stroke-width="0.18">6</text>
<text transform="translate(70.12,351.70) scale(1.0,1)" font-size="6.0" text-anchor="middle" font-weight="normal" font-style="normal" fill="#111111" stroke="#111111" stroke-width="0.18">6</text>
<text transform="translate(92.54,351.70) scale(1.0,1)" font-size="6.0" text-anchor="middle" font-weight="normal" font-style="normal" fill="#111111" stroke="#111111" stroke-width="0.18">3</text>
<text transform="translate(114.96,351.70) scale(1.0,1)" font-size="6.0" text-anchor="middle" font-weight="normal" font-style="normal" fill="#111111" stroke="#111111" stroke-width="0.18">1</text>
<text transform="translate(137.38,351.70) scale(1.0,1)" font-size="6.0" text-anchor="middle" font-weight="normal" font-style="normal" fill="#111111" stroke="#111111" stroke-width="0.18">1</text>
<text transform="translate(159.80,351.70) scale(1.0,1)" font-size="6.0" text-anchor="middle" font-weight="normal" font-style="normal" fill="#111111" stroke="#111111" stroke-width="0.18">1</text>
<line x1="197.00" y1="193.25" x2="197.00" y2="298.75" stroke="#474747" stroke-width="1.0" stroke-opacity="1.0"/>
<line x1="196.50" y1="298.25" x2="337.70" y2="298.25" stroke="#474747" stroke-width="1.0" stroke-opacity="1.0"/>
<line x1="195.00" y1="293.75" x2="197.00" y2="293.75" stroke="#474747" stroke-width="0.8" stroke-opacity="1.0"/>
<text transform="translate(194.00,295.65) scale(1.0,1)" font-size="5.3" text-anchor="end" font-weight="normal" font-style="normal" fill="#111111" stroke="#111111" stroke-width="0.18">0</text>
<line x1="195.00" y1="269.88" x2="197.00" y2="269.88" stroke="#474747" stroke-width="0.8" stroke-opacity="1.0"/>
<text transform="translate(194.00,271.77) scale(1.0,1)" font-size="5.3" text-anchor="end" font-weight="normal" font-style="normal" fill="#111111" stroke="#111111" stroke-width="0.18">25</text>
<line x1="195.00" y1="246.00" x2="197.00" y2="246.00" stroke="#474747" stroke-width="0.8" stroke-opacity="1.0"/>
<text transform="translate(194.00,247.90) scale(1.0,1)" font-size="5.3" text-anchor="end" font-weight="normal" font-style="normal" fill="#111111" stroke="#111111" stroke-width="0.18">50</text>
<line x1="195.00" y1="222.12" x2="197.00" y2="222.12" stroke="#474747" stroke-width="0.8" stroke-opacity="1.0"/>
<text transform="translate(194.00,224.03) scale(1.0,1)" font-size="5.3" text-anchor="end" font-weight="normal" font-style="normal" fill="#111111" stroke="#111111" stroke-width="0.18">75</text>
<line x1="195.00" y1="198.25" x2="197.00" y2="198.25" stroke="#474747" stroke-width="0.8" stroke-opacity="1.0"/>
<text transform="translate(194.00,200.15) scale(1.0,1)" font-size="5.3" text-anchor="end" font-weight="normal" font-style="normal" fill="#111111" stroke="#111111" stroke-width="0.18">100</text>
<line x1="203.30" y1="298.25" x2="203.30" y2="300.25" stroke="#474747" stroke-width="0.8" stroke-opacity="1.0"/>
<text transform="translate(203.30,304.55) scale(1.0,1)" font-size="5.3" text-anchor="middle" font-weight="normal" font-style="normal" fill="#111111" stroke="#111111" stroke-width="0.18">0</text>
<line x1="227.92" y1="298.25" x2="227.92" y2="300.25" stroke="#474747" stroke-width="0.8" stroke-opacity="1.0"/>
<text transform="translate(227.92,304.55) scale(1.0,1)" font-size="5.3" text-anchor="middle" font-weight="normal" font-style="normal" fill="#111111" stroke="#111111" stroke-width="0.18">12</text>
<line x1="252.54" y1="298.25" x2="252.54" y2="300.25" stroke="#474747" stroke-width="0.8" stroke-opacity="1.0"/>
<text transform="translate(252.54,304.55) scale(1.0,1)" font-size="5.3" text-anchor="middle" font-weight="normal" font-style="normal" fill="#111111" stroke="#111111" stroke-width="0.18">24</text>
<line x1="277.16" y1="298.25" x2="277.16" y2="300.25" stroke="#474747" stroke-width="0.8" stroke-opacity="1.0"/>
<text transform="translate(277.16,304.55) scale(1.0,1)" font-size="5.3" text-anchor="middle" font-weight="normal" font-style="normal" fill="#111111" stroke="#111111" stroke-width="0.18">36</text>
<line x1="301.78" y1="298.25" x2="301.78" y2="300.25" stroke="#474747" stroke-width="0.8" stroke-opacity="1.0"/>
<text transform="translate(301.78,304.55) scale(1.0,1)" font-size="5.3" text-anchor="middle" font-weight="normal" font-style="normal" fill="#111111" stroke="#111111" stroke-width="0.18">48</text>
<line x1="326.40" y1="298.25" x2="326.40" y2="300.25" stroke="#474747" stroke-width="0.8" stroke-opacity="1.0"/>
<text transform="translate(326.40,304.55) scale(1.0,1)" font-size="5.3" text-anchor="middle" font-weight="normal" font-style="normal" fill="#111111" stroke="#111111" stroke-width="0.18">60</text>
<text transform="translate(267.35,311.65) scale(1.0,1)" font-size="5.6" text-anchor="middle" font-weight="normal" font-style="normal" fill="#111111" stroke="#111111" stroke-width="0.1">Months</text>
<text transform="translate(178.20,245.75) rotate(-90)" font-size="5.75" text-anchor="middle" fill="#111111" stroke="#111111" stroke-width="0.18">EFS (%)</text>
<text transform="translate(197.00,188.75) scale(1.0,1)" font-size="6.55" text-anchor="start" font-weight="normal" font-style="normal" fill="#111111" stroke="#111111" stroke-width="0.18">MDS−RS−SLD/MLD</text>
<text transform="translate(165.50,193.60) scale(1.08,1)" font-size="12.6" text-anchor="start" font-weight="bold" font-style="normal" fill="#000" stroke="#000" stroke-width="0.1">E</text>
<text transform="translate(209.50,296.15)" font-size="6.6" fill="#111111" stroke="#111111" stroke-width="0.18"><tspan font-style="italic" font-family="Liberation Sans">P</tspan> = 0.3</text>
<path d="M203.5,198.1 H229.3 V213.5 H242.7 V229.8 H333" stroke="#aad3aa" stroke-width="1.15" fill="none" stroke-linejoin="miter" stroke-linecap="butt"/>
<line x1="226.00" y1="196.80" x2="226.00" y2="199.10" stroke="#aad3aa" stroke-width="0.8" stroke-opacity="1.0"/>
<line x1="290.00" y1="228.50" x2="290.00" y2="230.80" stroke="#aad3aa" stroke-width="0.8" stroke-opacity="1.0"/>
<line x1="325.00" y1="228.50" x2="325.00" y2="230.80" stroke="#aad3aa" stroke-width="0.8" stroke-opacity="1.0"/>
<path d="M203.5,198.1 H208.4 V204.1 H220.5 V209.5 H224.6 V216.2 H230 V221.6 H235.3 V227.7 H258.2 V234.2 H298.5 V242.8 H337.5" stroke="#e9b080" stroke-width="1.15" fill="none" stroke-linejoin="miter" stroke-linecap="butt"/>
<line x1="282.00" y1="232.90" x2="282.00" y2="235.20" stroke="#e9b080" stroke-width="0.8" stroke-opacity="1.0"/>
<line x1="330.00" y1="241.50" x2="330.00" y2="243.80" stroke="#e9b080" stroke-width="0.8" stroke-opacity="1.0"/>
<path d="M211.8,198.5 H219.2 V200.1 H221.9 V202.1 H232.6 V204.1 H234.7 V206.8 H238 V210.2 H260.9 V212.2 H266.3 V215.1 H301.1 V218 H302.5 V220.9 H319.1 V224.5 H329.2 V227.4 H330.7 V231.7 H337.9" stroke="#cc1f32" stroke-width="1.4" fill="none" stroke-linejoin="miter" stroke-linecap="butt"/>
<line x1="213.00" y1="197.20" x2="213.00" y2="199.50" stroke="#cc1f32" stroke-width="0.8" stroke-opacity="1.0"/>
<line x1="219.00" y1="197.20" x2="219.00" y2="199.50" stroke="#cc1f32" stroke-width="0.8" stroke-opacity="1.0"/>
<line x1="240.00" y1="208.90" x2="240.00" y2="211.20" stroke="#cc1f32" stroke-width="0.8" stroke-opacity="1.0"/>
<line x1="248.00" y1="208.90" x2="248.00" y2="211.20" stroke="#cc1f32" stroke-width="0.8" stroke-opacity="1.0"/>
<line x1="255.00" y1="208.90" x2="255.00" y2="211.20" stroke="#cc1f32" stroke-width="0.8" stroke-opacity="1.0"/>
<line x1="285.00" y1="213.80" x2="285.00" y2="216.10" stroke="#cc1f32" stroke-width="0.8" stroke-opacity="1.0"/>
<line x1="296.00" y1="213.80" x2="296.00" y2="216.10" stroke="#cc1f32" stroke-width="0.8" stroke-opacity="1.0"/>
<line x1="310.00" y1="219.60" x2="310.00" y2="221.90" stroke="#cc1f32" stroke-width="0.8" stroke-opacity="1.0"/>
<line x1="312.00" y1="219.60" x2="312.00" y2="221.90" stroke="#cc1f32" stroke-width="0.8" stroke-opacity="1.0"/>
<line x1="325.00" y1="223.20" x2="325.00" y2="225.50" stroke="#cc1f32" stroke-width="0.8" stroke-opacity="1.0"/>
<line x1="328.00" y1="223.20" x2="328.00" y2="225.50" stroke="#cc1f32" stroke-width="0.8" stroke-opacity="1.0"/>
<text transform="translate(197.00,323.40) scale(1.0,1)" font-size="6.6" text-anchor="start" font-weight="normal" font-style="normal" fill="#111111" stroke="#111111" stroke-width="0.18">Number at risk</text>
<text transform="translate(195.00,333.00) scale(1.0,1)" font-size="5.6" text-anchor="end" font-weight="normal" font-style="normal" fill="#d9485a" stroke="#d9485a" stroke-width="0.08">EMK</text>
<text transform="translate(203.30,333.20) scale(1.0,1)" font-size="6.0" text-anchor="middle" font-weight="normal" font-style="normal" fill="#111111" stroke="#111111" stroke-width="0.18">62</text>
<text transform="translate(227.92,333.20) scale(1.0,1)" font-size="6.0" text-anchor="middle" font-weight="normal" font-style="normal" fill="#111111" stroke="#111111" stroke-width="0.18">56</text>
<text transform="translate(252.54,333.20) scale(1.0,1)" font-size="6.0" text-anchor="middle" font-weight="normal" font-style="normal" fill="#111111" stroke="#111111" stroke-width="0.18">45</text>
<text transform="translate(277.16,333.20) scale(1.0,1)" font-size="6.0" text-anchor="middle" font-weight="normal" font-style="normal" fill="#111111" stroke="#111111" stroke-width="0.18">32</text>
<text transform="translate(301.78,333.20) scale(1.0,1)" font-size="6.0" text-anchor="middle" font-weight="normal" font-style="normal" fill="#111111" stroke="#111111" stroke-width="0.18">26</text>
<text transform="translate(326.40,333.20) scale(1.0,1)" font-size="6.0" text-anchor="middle" font-weight="normal" font-style="normal" fill="#111111" stroke="#111111" stroke-width="0.18">19</text>
<text transform="translate(195.00,340.60) scale(1.0,1)" font-size="5.6" text-anchor="end" font-weight="normal" font-style="normal" fill="#f2c07a" stroke="#f2c07a" stroke-width="0.08">INT</text>
<text transform="translate(203.30,340.80) scale(1.0,1)" font-size="6.0" text-anchor="middle" font-weight="normal" font-style="normal" fill="#111111" stroke="#111111" stroke-width="0.18">16</text>
<text transform="translate(227.92,340.80) scale(1.0,1)" font-size="6.0" text-anchor="middle" font-weight="normal" font-style="normal" fill="#111111" stroke="#111111" stroke-width="0.18">13</text>
<text transform="translate(252.54,340.80) scale(1.0,1)" font-size="6.0" text-anchor="middle" font-weight="normal" font-style="normal" fill="#111111" stroke="#111111" stroke-width="0.18">11</text>
<text transform="translate(277.16,340.80) scale(1.0,1)" font-size="6.0" text-anchor="middle" font-weight="normal" font-style="normal" fill="#111111" stroke="#111111" stroke-width="0.18">8</text>
<text transform="translate(301.78,340.80) scale(1.0,1)" font-size="6.0" text-anchor="middle" font-weight="normal" font-style="normal" fill="#111111" stroke="#111111" stroke-width="0.18">6</text>
<text transform="translate(326.40,340.80) scale(1.0,1)" font-size="6.0" text-anchor="middle" font-weight="normal" font-style="normal" fill="#111111" stroke="#111111" stroke-width="0.18">6</text>
<text transform="translate(195.00,347.70) scale(1.0,1)" font-size="5.6" text-anchor="end" font-weight="normal" font-style="normal" fill="#9fd0a0" stroke="#9fd0a0" stroke-width="0.08">IMP</text>
<text transform="translate(203.30,347.90) scale(1.0,1)" font-size="6.0" text-anchor="middle" font-weight="normal" font-style="normal" fill="#111111" stroke="#111111" stroke-width="0.18">6</text>
<text transform="translate(227.92,347.90) scale(1.0,1)" font-size="6.0" text-anchor="middle" font-weight="normal" font-style="normal" fill="#111111" stroke="#111111" stroke-width="0.18">6</text>
<text transform="translate(252.54,347.90) scale(1.0,1)" font-size="6.0" text-anchor="middle" font-weight="normal" font-style="normal" fill="#111111" stroke="#111111" stroke-width="0.18">4</text>
<text transform="translate(277.16,347.90) scale(1.0,1)" font-size="6.0" text-anchor="middle" font-weight="normal" font-style="normal" fill="#111111" stroke="#111111" stroke-width="0.18">3</text>
<text transform="translate(301.78,347.90) scale(1.0,1)" font-size="6.0" text-anchor="middle" font-weight="normal" font-style="normal" fill="#111111" stroke="#111111" stroke-width="0.18">3</text>
<text transform="translate(326.40,347.90) scale(1.0,1)" font-size="6.0" text-anchor="middle" font-weight="normal" font-style="normal" fill="#111111" stroke="#111111" stroke-width="0.18">2</text>
<line x1="382.50" y1="193.25" x2="382.50" y2="298.75" stroke="#474747" stroke-width="1.0" stroke-opacity="1.0"/>
<line x1="382.00" y1="298.25" x2="505.90" y2="298.25" stroke="#474747" stroke-width="1.0" stroke-opacity="1.0"/>
<line x1="380.50" y1="293.75" x2="382.50" y2="293.75" stroke="#474747" stroke-width="0.8" stroke-opacity="1.0"/>
<text transform="translate(379.50,295.65) scale(1.0,1)" font-size="5.3" text-anchor="end" font-weight="normal" font-style="normal" fill="#111111" stroke="#111111" stroke-width="0.18">0</text>
<line x1="380.50" y1="269.88" x2="382.50" y2="269.88" stroke="#474747" stroke-width="0.8" stroke-opacity="1.0"/>
<text transform="translate(379.50,271.77) scale(1.0,1)" font-size="5.3" text-anchor="end" font-weight="normal" font-style="normal" fill="#111111" stroke="#111111" stroke-width="0.18">25</text>
<line x1="380.50" y1="246.00" x2="382.50" y2="246.00" stroke="#474747" stroke-width="0.8" stroke-opacity="1.0"/>
<text transform="translate(379.50,247.90) scale(1.0,1)" font-size="5.3" text-anchor="end" font-weight="normal" font-style="normal" fill="#111111" stroke="#111111" stroke-width="0.18">50</text>
<line x1="380.50" y1="222.12" x2="382.50" y2="222.12" stroke="#474747" stroke-width="0.8" stroke-opacity="1.0"/>
<text transform="translate(379.50,224.03) scale(1.0,1)" font-size="5.3" text-anchor="end" font-weight="normal" font-style="normal" fill="#111111" stroke="#111111" stroke-width="0.18">75</text>
<line x1="380.50" y1="198.25" x2="382.50" y2="198.25" stroke="#474747" stroke-width="0.8" stroke-opacity="1.0"/>
<text transform="translate(379.50,200.15) scale(1.0,1)" font-size="5.3" text-anchor="end" font-weight="normal" font-style="normal" fill="#111111" stroke="#111111" stroke-width="0.18">100</text>
<line x1="388.00" y1="298.25" x2="388.00" y2="300.25" stroke="#474747" stroke-width="0.8" stroke-opacity="1.0"/>
<text transform="translate(388.00,304.55) scale(1.0,1)" font-size="5.3" text-anchor="middle" font-weight="normal" font-style="normal" fill="#111111" stroke="#111111" stroke-width="0.18">0</text>
<line x1="409.66" y1="298.25" x2="409.66" y2="300.25" stroke="#474747" stroke-width="0.8" stroke-opacity="1.0"/>
<text transform="translate(409.66,304.55) scale(1.0,1)" font-size="5.3" text-anchor="middle" font-weight="normal" font-style="normal" fill="#111111" stroke="#111111" stroke-width="0.18">12</text>
<line x1="431.32" y1="298.25" x2="431.32" y2="300.25" stroke="#474747" stroke-width="0.8" stroke-opacity="1.0"/>
<text transform="translate(431.32,304.55) scale(1.0,1)" font-size="5.3" text-anchor="middle" font-weight="normal" font-style="normal" fill="#111111" stroke="#111111" stroke-width="0.18">24</text>
<line x1="452.98" y1="298.25" x2="452.98" y2="300.25" stroke="#474747" stroke-width="0.8" stroke-opacity="1.0"/>
<text transform="translate(452.98,304.55) scale(1.0,1)" font-size="5.3" text-anchor="middle" font-weight="normal" font-style="normal" fill="#111111" stroke="#111111" stroke-width="0.18">36</text>
<line x1="474.64" y1="298.25" x2="474.64" y2="300.25" stroke="#474747" stroke-width="0.8" stroke-opacity="1.0"/>
<text transform="translate(474.64,304.55) scale(1.0,1)" font-size="5.3" text-anchor="middle" font-weight="normal" font-style="normal" fill="#111111" stroke="#111111" stroke-width="0.18">48</text>
<line x1="496.30" y1="298.25" x2="496.30" y2="300.25" stroke="#474747" stroke-width="0.8" stroke-opacity="1.0"/>
<text transform="translate(496.30,304.55) scale(1.0,1)" font-size="5.3" text-anchor="middle" font-weight="normal" font-style="normal" fill="#111111" stroke="#111111" stroke-width="0.18">60</text>
<text transform="translate(444.20,311.65) scale(1.0,1)" font-size="5.6" text-anchor="middle" font-weight="normal" font-style="normal" fill="#111111" stroke="#111111" stroke-width="0.1">Months</text>
<text transform="translate(363.70,245.75) rotate(-90)" font-size="5.75" text-anchor="middle" fill="#111111" stroke="#111111" stroke-width="0.18">EFS (%)</text>
<text transform="translate(382.50,188.75) scale(1.0,1)" font-size="6.55" text-anchor="start" font-weight="normal" font-style="normal" fill="#111111" stroke="#111111" stroke-width="0.18">MDS−RS−SLD/MLD</text>
<text transform="translate(351.30,193.60) scale(1.08,1)" font-size="12.6" text-anchor="start" font-weight="bold" font-style="normal" fill="#000" stroke="#000" stroke-width="0.1">F</text>
<text transform="translate(394.20,296.15)" font-size="6.6" fill="#111111" stroke="#111111" stroke-width="0.18"><tspan font-style="italic" font-family="Liberation Sans">P</tspan> = 0.017</text>
<path d="M388.6,197.9 H392.5 V199.2 H394.5 V201.9 H402.4 V204.5 H404.5 V206.5 H406.4 V209.7 H408.3 V211.7 H411 V215 H416.2 V217.5 H417.5 V219.6 H419.5 V222.9 H421.5 V226.2 H422.8 V230.1 H435.9 V233.2 H475.3 V238.1 H489.4 V242.7 H501.2 V249.2 H506.2" stroke="#276c98" stroke-width="1.4" fill="none" stroke-linejoin="miter" stroke-linecap="butt"/>
<line x1="408.00" y1="208.40" x2="408.00" y2="210.70" stroke="#276c98" stroke-width="0.8" stroke-opacity="1.0"/>
<line x1="428.00" y1="228.80" x2="428.00" y2="231.10" stroke="#276c98" stroke-width="0.8" stroke-opacity="1.0"/>
<line x1="433.00" y1="228.80" x2="433.00" y2="231.10" stroke="#276c98" stroke-width="0.8" stroke-opacity="1.0"/>
<line x1="447.00" y1="231.90" x2="447.00" y2="234.20" stroke="#276c98" stroke-width="0.8" stroke-opacity="1.0"/>
<line x1="458.00" y1="231.90" x2="458.00" y2="234.20" stroke="#276c98" stroke-width="0.8" stroke-opacity="1.0"/>
<line x1="485.00" y1="236.80" x2="485.00" y2="239.10" stroke="#276c98" stroke-width="0.8" stroke-opacity="1.0"/>
<line x1="498.00" y1="241.40" x2="498.00" y2="243.70" stroke="#276c98" stroke-width="0.8" stroke-opacity="1.0"/>
<path d="M388.6,197.9 H403.1 V199.9 H414.9 V201.9 H437.9 V204.5 H443.2 V207.8 H470.7 V210.4 H472.5 V215 H498.5 V219.4 H506.2" stroke="#cc1f32" stroke-width="1.4" fill="none" stroke-linejoin="miter" stroke-linecap="butt"/>
<line x1="435.00" y1="200.60" x2="435.00" y2="202.90" stroke="#cc1f32" stroke-width="0.8" stroke-opacity="1.0"/>
<line x1="440.00" y1="203.20" x2="440.00" y2="205.50" stroke="#cc1f32" stroke-width="0.8" stroke-opacity="1.0"/>
<line x1="470.00" y1="206.50" x2="470.00" y2="208.80" stroke="#cc1f32" stroke-width="0.8" stroke-opacity="1.0"/>
<line x1="480.00" y1="213.70" x2="480.00" y2="216.00" stroke="#cc1f32" stroke-width="0.8" stroke-opacity="1.0"/>
<line x1="485.00" y1="213.70" x2="485.00" y2="216.00" stroke="#cc1f32" stroke-width="0.8" stroke-opacity="1.0"/>
<line x1="490.00" y1="213.70" x2="490.00" y2="216.00" stroke="#cc1f32" stroke-width="0.8" stroke-opacity="1.0"/>
<line x1="496.00" y1="213.70" x2="496.00" y2="216.00" stroke="#cc1f32" stroke-width="0.8" stroke-opacity="1.0"/>
<text transform="translate(382.50,323.40) scale(1.0,1)" font-size="6.6" text-anchor="start" font-weight="normal" font-style="normal" fill="#111111" stroke="#111111" stroke-width="0.18">Number at risk</text>
<text transform="translate(380.00,334.50) scale(1.0,1)" font-size="5.6" text-anchor="end" font-weight="normal" font-style="normal" fill="#e0505e" stroke="#e0505e" stroke-width="0.08">MEP ≥ 38%</text>
<text transform="translate(388.00,334.70) scale(1.0,1)" font-size="6.0" text-anchor="middle" font-weight="normal" font-style="normal" fill="#111111" stroke="#111111" stroke-width="0.18">43</text>
<text transform="translate(409.66,334.70) scale(1.0,1)" font-size="6.0" text-anchor="middle" font-weight="normal" font-style="normal" fill="#111111" stroke="#111111" stroke-width="0.18">42</text>
<text transform="translate(431.32,334.70) scale(1.0,1)" font-size="6.0" text-anchor="middle" font-weight="normal" font-style="normal" fill="#111111" stroke="#111111" stroke-width="0.18">38</text>
<text transform="translate(452.98,334.70) scale(1.0,1)" font-size="6.0" text-anchor="middle" font-weight="normal" font-style="normal" fill="#111111" stroke="#111111" stroke-width="0.18">28</text>
<text transform="translate(474.64,334.70) scale(1.0,1)" font-size="6.0" text-anchor="middle" font-weight="normal" font-style="normal" fill="#111111" stroke="#111111" stroke-width="0.18">22</text>
<text transform="translate(496.30,334.70) scale(1.0,1)" font-size="6.0" text-anchor="middle" font-weight="normal" font-style="normal" fill="#111111" stroke="#111111" stroke-width="0.18">17</text>
<text transform="translate(380.00,342.40) scale(1.0,1)" font-size="5.6" text-anchor="end" font-weight="normal" font-style="normal" fill="#4a90c8" stroke="#4a90c8" stroke-width="0.08">MEP &lt; 38%</text>
<text transform="translate(388.00,342.60) scale(1.0,1)" font-size="6.0" text-anchor="middle" font-weight="normal" font-style="normal" fill="#111111" stroke="#111111" stroke-width="0.18">41</text>
<text transform="translate(409.66,342.60) scale(1.0,1)" font-size="6.0" text-anchor="middle" font-weight="normal" font-style="normal" fill="#111111" stroke="#111111" stroke-width="0.18">33</text>
<text transform="translate(431.32,342.60) scale(1.0,1)" font-size="6.0" text-anchor="middle" font-weight="normal" font-style="normal" fill="#111111" stroke="#111111" stroke-width="0.18">22</text>
<text transform="translate(452.98,342.60) scale(1.0,1)" font-size="6.0" text-anchor="middle" font-weight="normal" font-style="normal" fill="#111111" stroke="#111111" stroke-width="0.18">15</text>
<text transform="translate(474.64,342.60) scale(1.0,1)" font-size="6.0" text-anchor="middle" font-weight="normal" font-style="normal" fill="#111111" stroke="#111111" stroke-width="0.18">13</text>
<text transform="translate(496.30,342.60) scale(1.0,1)" font-size="6.0" text-anchor="middle" font-weight="normal" font-style="normal" fill="#111111" stroke="#111111" stroke-width="0.18">10</text>
<line x1="201.50" y1="380.20" x2="201.50" y2="482.75" stroke="#474747" stroke-width="1.0" stroke-opacity="1.0"/>
<line x1="201.00" y1="482.25" x2="338.50" y2="482.25" stroke="#474747" stroke-width="1.0" stroke-opacity="1.0"/>
<line x1="199.50" y1="478.00" x2="201.50" y2="478.00" stroke="#474747" stroke-width="0.8" stroke-opacity="1.0"/>
<text transform="translate(198.50,479.90) scale(1.0,1)" font-size="5.3" text-anchor="end" font-weight="normal" font-style="normal" fill="#111111" stroke="#111111" stroke-width="0.18">0</text>
<line x1="199.50" y1="454.69" x2="201.50" y2="454.69" stroke="#474747" stroke-width="0.8" stroke-opacity="1.0"/>
<text transform="translate(198.50,456.59) scale(1.0,1)" font-size="5.3" text-anchor="end" font-weight="normal" font-style="normal" fill="#111111" stroke="#111111" stroke-width="0.18">25</text>
<line x1="199.50" y1="431.38" x2="201.50" y2="431.38" stroke="#474747" stroke-width="0.8" stroke-opacity="1.0"/>
<text transform="translate(198.50,433.27) scale(1.0,1)" font-size="5.3" text-anchor="end" font-weight="normal" font-style="normal" fill="#111111" stroke="#111111" stroke-width="0.18">50</text>
<line x1="199.50" y1="408.06" x2="201.50" y2="408.06" stroke="#474747" stroke-width="0.8" stroke-opacity="1.0"/>
<text transform="translate(198.50,409.96) scale(1.0,1)" font-size="5.3" text-anchor="end" font-weight="normal" font-style="normal" fill="#111111" stroke="#111111" stroke-width="0.18">75</text>
<line x1="199.50" y1="384.75" x2="201.50" y2="384.75" stroke="#474747" stroke-width="0.8" stroke-opacity="1.0"/>
<text transform="translate(198.50,386.65) scale(1.0,1)" font-size="5.3" text-anchor="end" font-weight="normal" font-style="normal" fill="#111111" stroke="#111111" stroke-width="0.18">100</text>
<line x1="207.50" y1="482.25" x2="207.50" y2="484.25" stroke="#474747" stroke-width="0.8" stroke-opacity="1.0"/>
<text transform="translate(207.50,488.55) scale(1.0,1)" font-size="5.3" text-anchor="middle" font-weight="normal" font-style="normal" fill="#111111" stroke="#111111" stroke-width="0.18">0</text>
<line x1="231.36" y1="482.25" x2="231.36" y2="484.25" stroke="#474747" stroke-width="0.8" stroke-opacity="1.0"/>
<text transform="translate(231.36,488.55) scale(1.0,1)" font-size="5.3" text-anchor="middle" font-weight="normal" font-style="normal" fill="#111111" stroke="#111111" stroke-width="0.18">12</text>
<line x1="255.22" y1="482.25" x2="255.22" y2="484.25" stroke="#474747" stroke-width="0.8" stroke-opacity="1.0"/>
<text transform="translate(255.22,488.55) scale(1.0,1)" font-size="5.3" text-anchor="middle" font-weight="normal" font-style="normal" fill="#111111" stroke="#111111" stroke-width="0.18">24</text>
<line x1="279.08" y1="482.25" x2="279.08" y2="484.25" stroke="#474747" stroke-width="0.8" stroke-opacity="1.0"/>
<text transform="translate(279.08,488.55) scale(1.0,1)" font-size="5.3" text-anchor="middle" font-weight="normal" font-style="normal" fill="#111111" stroke="#111111" stroke-width="0.18">36</text>
<line x1="302.94" y1="482.25" x2="302.94" y2="484.25" stroke="#474747" stroke-width="0.8" stroke-opacity="1.0"/>
<text transform="translate(302.94,488.55) scale(1.0,1)" font-size="5.3" text-anchor="middle" font-weight="normal" font-style="normal" fill="#111111" stroke="#111111" stroke-width="0.18">48</text>
<line x1="326.80" y1="482.25" x2="326.80" y2="484.25" stroke="#474747" stroke-width="0.8" stroke-opacity="1.0"/>
<text transform="translate(326.80,488.55) scale(1.0,1)" font-size="5.3" text-anchor="middle" font-weight="normal" font-style="normal" fill="#111111" stroke="#111111" stroke-width="0.18">60</text>
<text transform="translate(270.00,495.65) scale(1.0,1)" font-size="5.6" text-anchor="middle" font-weight="normal" font-style="normal" fill="#111111" stroke="#111111" stroke-width="0.1">Months</text>
<text transform="translate(183.80,431.23) rotate(-90)" font-size="5.75" text-anchor="middle" fill="#111111" stroke="#111111" stroke-width="0.18">EFS (%)</text>
<text transform="translate(201.50,375.70) scale(1.0,1)" font-size="6.4" text-anchor="start" font-weight="normal" font-style="normal" fill="#111111" stroke="#111111" stroke-width="0.18">IPSS−M very low, low, and moderate low</text>
<text transform="translate(165.60,364.20) scale(1.08,1)" font-size="12.6" text-anchor="start" font-weight="bold" font-style="normal" fill="#000" stroke="#000" stroke-width="0.1">H</text>
<text transform="translate(213.70,480.40)" font-size="6.2" fill="#111111" stroke="#111111" stroke-width="0.18"><tspan font-style="italic" font-family="Liberation Sans">P</tspan> = 0.002</text>
<path d="M208.4,384.7 H216.5 V386.7 H219 V388.8 H224 V390.1 H227 V391.5 H228.6 V394.8 H231.9 V396.8 H233.3 V400.2 H239.5 V404.2 H242 V406.3 H243.4 V411 H244.7 V415.4 H260.5 V418.1 H287.8 V421.7 H303.9 V425.8 H313.4 V429.8 H319.5 V434.3 H332.2 V439.9 H338" stroke="#276c98" stroke-width="1.4" fill="none" stroke-linejoin="miter" stroke-linecap="butt"/>
<line x1="235.00" y1="398.90" x2="235.00" y2="401.20" stroke="#276c98" stroke-width="0.8" stroke-opacity="1.0"/>
<line x1="255.00" y1="414.10" x2="255.00" y2="416.40" stroke="#276c98" stroke-width="0.8" stroke-opacity="1.0"/>
<line x1="270.00" y1="416.80" x2="270.00" y2="419.10" stroke="#276c98" stroke-width="0.8" stroke-opacity="1.0"/>
<line x1="284.00" y1="416.80" x2="284.00" y2="419.10" stroke="#276c98" stroke-width="0.8" stroke-opacity="1.0"/>
<line x1="306.00" y1="424.50" x2="306.00" y2="426.80" stroke="#276c98" stroke-width="0.8" stroke-opacity="1.0"/>
<line x1="328.00" y1="433.00" x2="328.00" y2="435.30" stroke="#276c98" stroke-width="0.8" stroke-opacity="1.0"/>
<path d="M208.4,384.7 H236.8 V386.7 H269 V388.8 H298.8 V391.5 H301 V394.8 H309 V398.2 H320.2 V402.2 H329.8 V406.3 H331 V410.3 H338" stroke="#cc1f32" stroke-width="1.4" fill="none" stroke-linejoin="miter" stroke-linecap="butt"/>
<line x1="236.00" y1="383.40" x2="236.00" y2="385.70" stroke="#cc1f32" stroke-width="0.8" stroke-opacity="1.0"/>
<line x1="250.00" y1="385.40" x2="250.00" y2="387.70" stroke="#cc1f32" stroke-width="0.8" stroke-opacity="1.0"/>
<line x1="258.00" y1="385.40" x2="258.00" y2="387.70" stroke="#cc1f32" stroke-width="0.8" stroke-opacity="1.0"/>
<line x1="265.00" y1="385.40" x2="265.00" y2="387.70" stroke="#cc1f32" stroke-width="0.8" stroke-opacity="1.0"/>
<line x1="280.00" y1="387.50" x2="280.00" y2="389.80" stroke="#cc1f32" stroke-width="0.8" stroke-opacity="1.0"/>
<line x1="292.00" y1="387.50" x2="292.00" y2="389.80" stroke="#cc1f32" stroke-width="0.8" stroke-opacity="1.0"/>
<line x1="300.00" y1="390.20" x2="300.00" y2="392.50" stroke="#cc1f32" stroke-width="0.8" stroke-opacity="1.0"/>
<line x1="313.00" y1="396.90" x2="313.00" y2="399.20" stroke="#cc1f32" stroke-width="0.8" stroke-opacity="1.0"/>
<line x1="322.00" y1="400.90" x2="322.00" y2="403.20" stroke="#cc1f32" stroke-width="0.8" stroke-opacity="1.0"/>
<line x1="327.00" y1="400.90" x2="327.00" y2="403.20" stroke="#cc1f32" stroke-width="0.8" stroke-opacity="1.0"/>
<text transform="translate(201.50,506.70) scale(1.0,1)" font-size="6.35" text-anchor="start" font-weight="normal" font-style="normal" fill="#111111" stroke="#111111" stroke-width="0.18">Number at risk</text>
<text transform="translate(201.50,516.30) scale(1.0,1)" font-size="5.6" text-anchor="end" font-weight="normal" font-style="normal" fill="#e0505e" stroke="#e0505e" stroke-width="0.08">MEP  ≥ 38%</text>
<text transform="translate(205.50,516.50) scale(1.0,1)" font-size="6.0" text-anchor="middle" font-weight="normal" font-style="normal" fill="#111111" stroke="#111111" stroke-width="0.18">51</text>
<text transform="translate(231.36,516.50) scale(1.0,1)" font-size="6.0" text-anchor="middle" font-weight="normal" font-style="normal" fill="#111111" stroke="#111111" stroke-width="0.18">51</text>
<text transform="translate(255.22,516.50) scale(1.0,1)" font-size="6.0" text-anchor="middle" font-weight="normal" font-style="normal" fill="#111111" stroke="#111111" stroke-width="0.18">43</text>
<text transform="translate(279.08,516.50) scale(1.0,1)" font-size="6.0" text-anchor="middle" font-weight="normal" font-style="normal" fill="#111111" stroke="#111111" stroke-width="0.18">33</text>
<text transform="translate(302.94,516.50) scale(1.0,1)" font-size="6.0" text-anchor="middle" font-weight="normal" font-style="normal" fill="#111111" stroke="#111111" stroke-width="0.18">26</text>
<text transform="translate(326.80,516.50) scale(1.0,1)" font-size="6.0" text-anchor="middle" font-weight="normal" font-style="normal" fill="#111111" stroke="#111111" stroke-width="0.18">19</text>
<text transform="translate(201.50,524.30) scale(1.0,1)" font-size="5.6" text-anchor="end" font-weight="normal" font-style="normal" fill="#4a90c8" stroke="#4a90c8" stroke-width="0.08">MEP  &lt; 38%</text>
<text transform="translate(205.50,524.50) scale(1.0,1)" font-size="6.0" text-anchor="middle" font-weight="normal" font-style="normal" fill="#111111" stroke="#111111" stroke-width="0.18">45</text>
<text transform="translate(231.36,524.50) scale(1.0,1)" font-size="6.0" text-anchor="middle" font-weight="normal" font-style="normal" fill="#111111" stroke="#111111" stroke-width="0.18">37</text>
<text transform="translate(255.22,524.50) scale(1.0,1)" font-size="6.0" text-anchor="middle" font-weight="normal" font-style="normal" fill="#111111" stroke="#111111" stroke-width="0.18">25</text>
<text transform="translate(279.08,524.50) scale(1.0,1)" font-size="6.0" text-anchor="middle" font-weight="normal" font-style="normal" fill="#111111" stroke="#111111" stroke-width="0.18">19</text>
<text transform="translate(302.94,524.50) scale(1.0,1)" font-size="6.0" text-anchor="middle" font-weight="normal" font-style="normal" fill="#111111" stroke="#111111" stroke-width="0.18">14</text>
<text transform="translate(326.80,524.50) scale(1.0,1)" font-size="6.0" text-anchor="middle" font-weight="normal" font-style="normal" fill="#111111" stroke="#111111" stroke-width="0.18">10</text>
<line x1="381.20" y1="380.20" x2="381.20" y2="482.75" stroke="#474747" stroke-width="1.0" stroke-opacity="1.0"/>
<line x1="380.70" y1="482.25" x2="517.70" y2="482.25" stroke="#474747" stroke-width="1.0" stroke-opacity="1.0"/>
<line x1="379.20" y1="478.00" x2="381.20" y2="478.00" stroke="#474747" stroke-width="0.8" stroke-opacity="1.0"/>
<text transform="translate(378.20,479.90) scale(1.0,1)" font-size="5.3" text-anchor="end" font-weight="normal" font-style="normal" fill="#111111" stroke="#111111" stroke-width="0.18">0</text>
<line x1="379.20" y1="454.69" x2="381.20" y2="454.69" stroke="#474747" stroke-width="0.8" stroke-opacity="1.0"/>
<text transform="translate(378.20,456.59) scale(1.0,1)" font-size="5.3" text-anchor="end" font-weight="normal" font-style="normal" fill="#111111" stroke="#111111" stroke-width="0.18">25</text>
<line x1="379.20" y1="431.38" x2="381.20" y2="431.38" stroke="#474747" stroke-width="0.8" stroke-opacity="1.0"/>
<text transform="translate(378.20,433.27) scale(1.0,1)" font-size="5.3" text-anchor="end" font-weight="normal" font-style="normal" fill="#111111" stroke="#111111" stroke-width="0.18">50</text>
<line x1="379.20" y1="408.06" x2="381.20" y2="408.06" stroke="#474747" stroke-width="0.8" stroke-opacity="1.0"/>
<text transform="translate(378.20,409.96) scale(1.0,1)" font-size="5.3" text-anchor="end" font-weight="normal" font-style="normal" fill="#111111" stroke="#111111" stroke-width="0.18">75</text>
<line x1="379.20" y1="384.75" x2="381.20" y2="384.75" stroke="#474747" stroke-width="0.8" stroke-opacity="1.0"/>
<text transform="translate(378.20,386.65) scale(1.0,1)" font-size="5.3" text-anchor="end" font-weight="normal" font-style="normal" fill="#111111" stroke="#111111" stroke-width="0.18">100</text>
<line x1="387.25" y1="482.25" x2="387.25" y2="484.25" stroke="#474747" stroke-width="0.8" stroke-opacity="1.0"/>
<text transform="translate(387.25,488.55) scale(1.0,1)" font-size="5.3" text-anchor="middle" font-weight="normal" font-style="normal" fill="#111111" stroke="#111111" stroke-width="0.18">0</text>
<line x1="411.10" y1="482.25" x2="411.10" y2="484.25" stroke="#474747" stroke-width="0.8" stroke-opacity="1.0"/>
<text transform="translate(411.10,488.55) scale(1.0,1)" font-size="5.3" text-anchor="middle" font-weight="normal" font-style="normal" fill="#111111" stroke="#111111" stroke-width="0.18">12</text>
<line x1="434.95" y1="482.25" x2="434.95" y2="484.25" stroke="#474747" stroke-width="0.8" stroke-opacity="1.0"/>
<text transform="translate(434.95,488.55) scale(1.0,1)" font-size="5.3" text-anchor="middle" font-weight="normal" font-style="normal" fill="#111111" stroke="#111111" stroke-width="0.18">24</text>
<line x1="458.80" y1="482.25" x2="458.80" y2="484.25" stroke="#474747" stroke-width="0.8" stroke-opacity="1.0"/>
<text transform="translate(458.80,488.55) scale(1.0,1)" font-size="5.3" text-anchor="middle" font-weight="normal" font-style="normal" fill="#111111" stroke="#111111" stroke-width="0.18">36</text>
<line x1="482.65" y1="482.25" x2="482.65" y2="484.25" stroke="#474747" stroke-width="0.8" stroke-opacity="1.0"/>
<text transform="translate(482.65,488.55) scale(1.0,1)" font-size="5.3" text-anchor="middle" font-weight="normal" font-style="normal" fill="#111111" stroke="#111111" stroke-width="0.18">48</text>
<line x1="506.50" y1="482.25" x2="506.50" y2="484.25" stroke="#474747" stroke-width="0.8" stroke-opacity="1.0"/>
<text transform="translate(506.50,488.55) scale(1.0,1)" font-size="5.3" text-anchor="middle" font-weight="normal" font-style="normal" fill="#111111" stroke="#111111" stroke-width="0.18">60</text>
<text transform="translate(449.45,495.65) scale(1.0,1)" font-size="5.6" text-anchor="middle" font-weight="normal" font-style="normal" fill="#111111" stroke="#111111" stroke-width="0.1">Months</text>
<text transform="translate(363.60,431.23) rotate(-90)" font-size="5.75" text-anchor="middle" fill="#111111" stroke="#111111" stroke-width="0.18">EFS (%)</text>
<text transform="translate(381.20,375.70) scale(1.0,1)" font-size="6.4" text-anchor="start" font-weight="normal" font-style="normal" fill="#111111" stroke="#111111" stroke-width="0.18">IPSS−M moderate high, high, and very high</text>
<text transform="translate(351.60,364.20) scale(1.08,1)" font-size="12.6" text-anchor="start" font-weight="bold" font-style="normal" fill="#000" stroke="#000" stroke-width="0.1">I</text>
<text transform="translate(388.85,480.40)" font-size="6.2" fill="#111111" stroke="#111111" stroke-width="0.18"><tspan font-style="italic" font-family="Liberation Sans">P</tspan> = 0.1</text>
<path d="M388.1,384.6 H398.5 V396.2 H403.9 V407.9 H418 V419.7 H428.3 V431.4 H432.5 V443 H439.9 V454.3 H442.4 V466.4 H466.6 V478" stroke="#cc1f32" stroke-width="1.4" fill="none" stroke-linejoin="miter" stroke-linecap="butt"/>
<line x1="396.00" y1="383.30" x2="396.00" y2="385.60" stroke="#cc1f32" stroke-width="0.8" stroke-opacity="1.0"/>
<line x1="399.00" y1="394.90" x2="399.00" y2="397.20" stroke="#cc1f32" stroke-width="0.8" stroke-opacity="1.0"/>
<path d="M388.1,384.6 V390 H389.5 V396.8 H392.4 V405.6 H393.5 V410.3 H396.5 V415 H400.2 V422 H402.7 V430.3 H408.1 V438.2 H412.8 V446.2 H424.9 V454.3 H431 V462.4 H448.5" stroke="#276c98" stroke-width="1.4" fill="none" stroke-linejoin="miter" stroke-linecap="butt"/>
<line x1="448.00" y1="461.10" x2="448.00" y2="463.40" stroke="#276c98" stroke-width="0.8" stroke-opacity="1.0"/>
<text transform="translate(381.20,506.70) scale(1.0,1)" font-size="6.35" text-anchor="start" font-weight="normal" font-style="normal" fill="#111111" stroke="#111111" stroke-width="0.18">Number at risk</text>
<text transform="translate(378.50,516.60) scale(1.0,1)" font-size="5.6" text-anchor="end" font-weight="normal" font-style="normal" fill="#e0505e" stroke="#e0505e" stroke-width="0.08">MEP ≥ 38%</text>
<text transform="translate(387.25,516.80) scale(1.0,1)" font-size="6.0" text-anchor="middle" font-weight="normal" font-style="normal" fill="#111111" stroke="#111111" stroke-width="0.18">10</text>
<text transform="translate(411.10,516.80) scale(1.0,1)" font-size="6.0" text-anchor="middle" font-weight="normal" font-style="normal" fill="#111111" stroke="#111111" stroke-width="0.18">6</text>
<text transform="translate(434.95,516.80) scale(1.0,1)" font-size="6.0" text-anchor="middle" font-weight="normal" font-style="normal" fill="#111111" stroke="#111111" stroke-width="0.18">3</text>
<text transform="translate(458.80,516.80) scale(1.0,1)" font-size="6.0" text-anchor="middle" font-weight="normal" font-style="normal" fill="#111111" stroke="#111111" stroke-width="0.18">1</text>
<text transform="translate(482.65,516.80) scale(1.0,1)" font-size="6.0" text-anchor="middle" font-weight="normal" font-style="normal" fill="#111111" stroke="#111111" stroke-width="0.18">0</text>
<text transform="translate(506.50,516.80) scale(1.0,1)" font-size="6.0" text-anchor="middle" font-weight="normal" font-style="normal" fill="#111111" stroke="#111111" stroke-width="0.18">0</text>
<text transform="translate(378.50,525.00) scale(1.0,1)" font-size="5.6" text-anchor="end" font-weight="normal" font-style="normal" fill="#4a90c8" stroke="#4a90c8" stroke-width="0.08">MEP &lt; 38%</text>
<text transform="translate(387.25,525.20) scale(1.0,1)" font-size="6.0" text-anchor="middle" font-weight="normal" font-style="normal" fill="#111111" stroke="#111111" stroke-width="0.18">22</text>
<text transform="translate(411.10,525.20) scale(1.0,1)" font-size="6.0" text-anchor="middle" font-weight="normal" font-style="normal" fill="#111111" stroke="#111111" stroke-width="0.18">5</text>
<text transform="translate(434.95,525.20) scale(1.0,1)" font-size="6.0" text-anchor="middle" font-weight="normal" font-style="normal" fill="#111111" stroke="#111111" stroke-width="0.18">2</text>
<text transform="translate(458.80,525.20) scale(1.0,1)" font-size="6.0" text-anchor="middle" font-weight="normal" font-style="normal" fill="#111111" stroke="#111111" stroke-width="0.18">0</text>
<text transform="translate(482.65,525.20) scale(1.0,1)" font-size="6.0" text-anchor="middle" font-weight="normal" font-style="normal" fill="#111111" stroke="#111111" stroke-width="0.18">0</text>
<text transform="translate(506.50,525.20) scale(1.0,1)" font-size="6.0" text-anchor="middle" font-weight="normal" font-style="normal" fill="#111111" stroke="#111111" stroke-width="0.18">0</text>
<text transform="translate(1.00,364.00) scale(1.08,1)" font-size="12.6" text-anchor="start" font-weight="bold" font-style="normal" fill="#000" stroke="#000" stroke-width="0.1">G</text>
<text transform="translate(71.00,375.80) scale(1.0,1)" font-size="5.6" text-anchor="middle" font-weight="normal" font-style="normal" fill="#222" stroke="#222" stroke-width="0.06">HR (EFS)</text>
<rect x="3.60" y="384.30" width="141.50" height="39.50" fill="#b4b4b4"/>
<rect x="3.60" y="464.10" width="141.50" height="39.70" fill="#b4b4b4"/>
<line x1="64.93" y1="377.50" x2="64.93" y2="504.00" stroke="#d8d8d8" stroke-width="0.5" stroke-opacity="0.6"/>
<line x1="77.67" y1="377.50" x2="77.67" y2="504.00" stroke="#d8d8d8" stroke-width="0.5" stroke-opacity="0.6"/>
<line x1="87.30" y1="377.50" x2="87.30" y2="504.00" stroke="#d8d8d8" stroke-width="0.5" stroke-opacity="0.6"/>
<line x1="96.93" y1="377.50" x2="96.93" y2="504.00" stroke="#d8d8d8" stroke-width="0.5" stroke-opacity="0.6"/>
<line x1="109.67" y1="377.50" x2="109.67" y2="504.00" stroke="#d8d8d8" stroke-width="0.5" stroke-opacity="0.6"/>
<line x1="128.93" y1="377.50" x2="128.93" y2="504.00" stroke="#d8d8d8" stroke-width="0.5" stroke-opacity="0.6"/>
<line x1="119.30" y1="379" x2="119.30" y2="504" stroke="#606060" stroke-width="0.6" stroke-dasharray="2,0.6"/>
<text transform="translate(64.93,514.50) scale(1.0,1)" font-size="3.9" text-anchor="middle" font-weight="normal" font-style="normal" fill="#222" stroke="#222" stroke-width="0.06">0.02</text>
<text transform="translate(77.67,514.50) scale(1.0,1)" font-size="3.9" text-anchor="middle" font-weight="normal" font-style="normal" fill="#222" stroke="#222" stroke-width="0.06">0.05</text>
<text transform="translate(87.30,514.50) scale(1.0,1)" font-size="3.9" text-anchor="middle" font-weight="normal" font-style="normal" fill="#222" stroke="#222" stroke-width="0.06">0.1</text>
<text transform="translate(96.93,514.50) scale(1.0,1)" font-size="3.9" text-anchor="middle" font-weight="normal" font-style="normal" fill="#222" stroke="#222" stroke-width="0.06">0.2</text>
<text transform="translate(109.67,514.50) scale(1.0,1)" font-size="3.9" text-anchor="middle" font-weight="normal" font-style="normal" fill="#222" stroke="#222" stroke-width="0.06">0.5</text>
<text transform="translate(119.30,514.50) scale(1.0,1)" font-size="3.9" text-anchor="middle" font-weight="normal" font-style="normal" fill="#222" stroke="#222" stroke-width="0.06">1</text>
<text transform="translate(128.93,514.50) scale(1.0,1)" font-size="3.9" text-anchor="middle" font-weight="normal" font-style="normal" fill="#222" stroke="#222" stroke-width="0.06">2</text>
<text transform="translate(6.30,405.80) scale(1.0,1)" font-size="3.9" text-anchor="start" font-weight="bold" font-style="normal" fill="#111" stroke="#111" stroke-width="0.06">MEP</text>
<text transform="translate(35.50,405.80) scale(1.0,1)" font-size="3.9" text-anchor="middle" font-weight="normal" font-style="normal" fill="#333" stroke="#333" stroke-width="0.04">(N = 129)</text>
<text transform="translate(62.00,404.20) scale(1.0,1)" font-size="3.9" text-anchor="middle" font-weight="normal" font-style="normal" fill="#333" stroke="#333" stroke-width="0.04">0.11</text>
<text transform="translate(59.00,411.60) scale(1.0,1)" font-size="3.9" text-anchor="middle" font-weight="normal" font-style="normal" fill="#333" stroke="#333" stroke-width="0.04">(0.028 - 0.44)</text>
<line x1="69.61" y1="404.40" x2="107.89" y2="404.40" stroke="#111" stroke-width="0.6" stroke-opacity="1.0"/>
<line x1="69.61" y1="401.60" x2="69.61" y2="407.20" stroke="#111" stroke-width="0.6" stroke-opacity="1.0"/>
<line x1="107.89" y1="401.60" x2="107.89" y2="407.20" stroke="#111" stroke-width="0.6" stroke-opacity="1.0"/>
<rect x="86.52" y="402.30" width="4.20" height="4.20" fill="#000"/>
<text transform="translate(137.00,405.80) scale(1.0,1)" font-size="3.9" text-anchor="start" font-weight="normal" font-style="normal" fill="#333" stroke="#333" stroke-width="0.04">0.002</text>
<text transform="translate(6.30,445.90) scale(1.0,1)" font-size="3.9" text-anchor="start" font-weight="bold" font-style="normal" fill="#111" stroke="#111" stroke-width="0.06">IPSS-M</text>
<text transform="translate(6.30,450.60) scale(1.0,1)" font-size="3.9" text-anchor="start" font-weight="bold" font-style="normal" fill="#111" stroke="#111" stroke-width="0.06">score</text>
<text transform="translate(36.50,446.00) scale(1.0,1)" font-size="3.9" text-anchor="middle" font-weight="normal" font-style="normal" fill="#333" stroke="#333" stroke-width="0.04">(N = 129)</text>
<text transform="translate(60.00,443.70) scale(1.0,1)" font-size="3.9" text-anchor="middle" font-weight="normal" font-style="normal" fill="#333" stroke="#333" stroke-width="0.04">2.38</text>
<text transform="translate(59.20,451.40) scale(1.0,1)" font-size="3.9" text-anchor="middle" font-weight="normal" font-style="normal" fill="#333" stroke="#333" stroke-width="0.04">(2.028 - 3.22)</text>
<line x1="128.60" y1="443.40" x2="135.80" y2="443.40" stroke="#111" stroke-width="0.6" stroke-opacity="1.0"/>
<line x1="128.60" y1="441.00" x2="128.60" y2="445.80" stroke="#111" stroke-width="0.6" stroke-opacity="1.0"/>
<line x1="135.80" y1="441.00" x2="135.80" y2="445.80" stroke="#111" stroke-width="0.6" stroke-opacity="1.0"/>
<rect x="130.10" y="441.30" width="4.40" height="4.20" fill="#000"/>
<text transform="translate(138.00,444.60) scale(1.0,1)" font-size="3.2" text-anchor="start" font-weight="normal" font-style="normal" fill="#333" stroke="#333" stroke-width="0.04">&lt;0.001***</text>
<text transform="translate(6.30,485.60) scale(1.0,1)" font-size="3.9" text-anchor="start" font-weight="bold" font-style="normal" fill="#111" stroke="#111" stroke-width="0.06">AGE</text>
<text transform="translate(35.30,485.60) scale(1.0,1)" font-size="3.9" text-anchor="middle" font-weight="normal" font-style="normal" fill="#333" stroke="#333" stroke-width="0.04">(N = 129)</text>
<text transform="translate(60.00,483.40) scale(1.0,1)" font-size="3.9" text-anchor="middle" font-weight="normal" font-style="normal" fill="#333" stroke="#333" stroke-width="0.04">1.06</text>
<text transform="translate(59.20,491.10) scale(1.0,1)" font-size="3.9" text-anchor="middle" font-weight="normal" font-style="normal" fill="#333" stroke="#333" stroke-width="0.04">(1.019 - 1.10)</text>
<rect x="117.91" y="481.50" width="4.40" height="4.80" fill="#000"/>
<text transform="translate(137.00,485.60) scale(1.0,1)" font-size="3.9" text-anchor="start" font-weight="normal" font-style="normal" fill="#333" stroke="#333" stroke-width="0.04">0.004</text>
<text transform="translate(6.50,507.50) scale(1.0,1)" font-size="3.3" text-anchor="start" font-weight="normal" font-style="normal" fill="#333" stroke="#333" stroke-width="0.04"># Events: 95; global P value (Log-rank): 4.0339e−15</text>
<text transform="translate(6.50,511.60) scale(1.0,1)" font-size="3.3" text-anchor="start" font-weight="normal" font-style="normal" fill="#333" stroke="#333" stroke-width="0.04">AIC: 978.15; Concordance Index: 0.66</text>
</svg></body></html>
